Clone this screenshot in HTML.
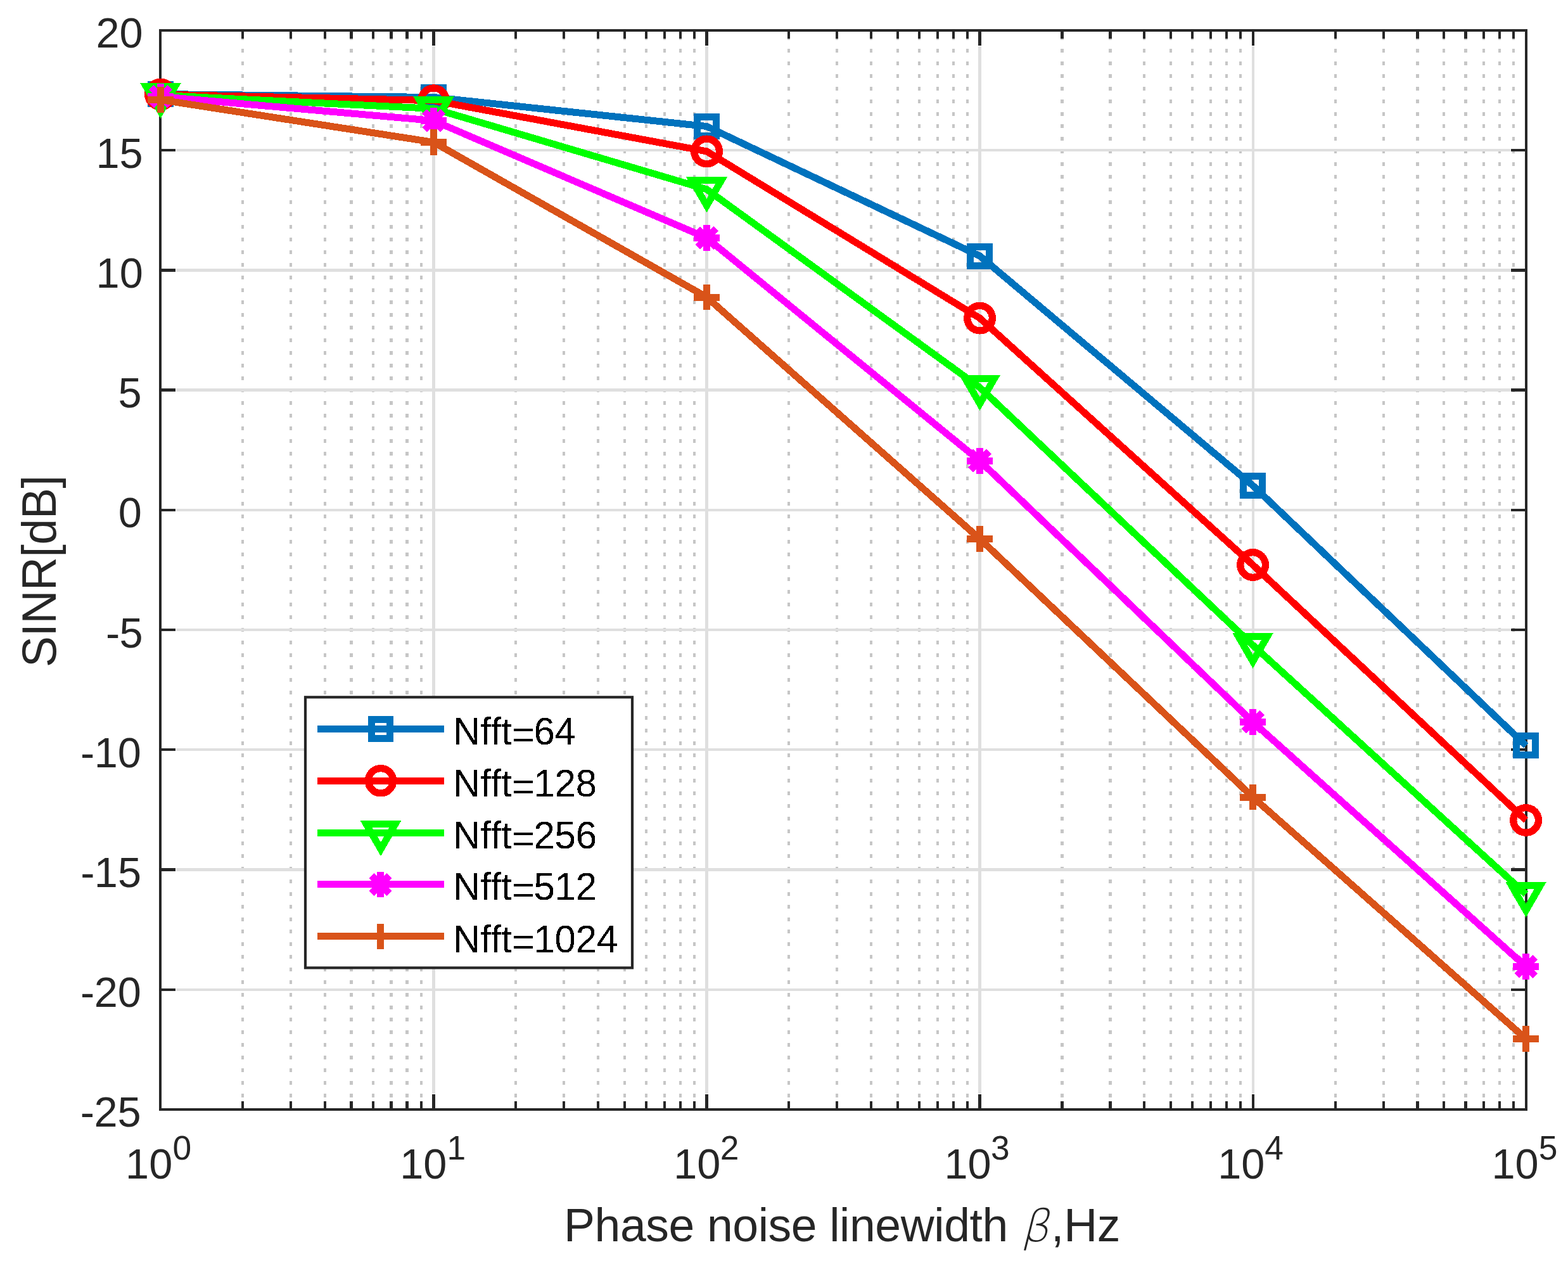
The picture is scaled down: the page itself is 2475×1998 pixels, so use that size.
<!DOCTYPE html>
<html lang="en"><head><meta charset="utf-8"><title>SINR vs phase noise linewidth</title>
<style>html,body{margin:0;padding:0;background:#fff;overflow:hidden}svg{display:block}text{font-family:"Liberation Sans",sans-serif;font-variant-ligatures:none;font-kerning:none;white-space:pre}.tk{font-size:66.67px;fill:#262626}.ex{font-size:53.33px;fill:#262626}.lb{font-size:73.33px;fill:#262626}.lg{font-size:60px;fill:#000}.bt{font-family:"DejaVu Sans ExtraLight","DejaVu Sans Light","DejaVu Sans",sans-serif;font-weight:200;font-style:italic;font-size:70px;letter-spacing:0}</style></head><body>
<svg width="2475" height="1998" viewBox="0 0 2475 1998">
<defs><filter id="hard" x="-5%" y="-20%" width="110%" height="140%" color-interpolation-filters="sRGB"><feComponentTransfer><feFuncA type="discrete" tableValues="0 1"/></feComponentTransfer></filter></defs>
<rect width="2475" height="1998" fill="#fff"/>
<g fill="#c6c6c6" shape-rendering="crispEdges">
<path d="M381 1746h4v6h-4zM381 1726h4v6h-4zM381 1706h4v6h-4zM381 1686h4v6h-4zM381 1666h4v6h-4zM381 1646h4v6h-4zM381 1626h4v6h-4zM381 1606h4v6h-4zM381 1587h4v6h-4zM381 1567h4v6h-4zM381 1547h4v6h-4zM381 1527h4v6h-4zM381 1507h4v6h-4zM381 1487h4v6h-4zM381 1467h4v6h-4zM381 1448h4v6h-4zM381 1428h4v6h-4zM381 1408h4v6h-4zM381 1388h4v6h-4zM381 1368h4v6h-4zM381 1348h4v6h-4zM381 1328h4v6h-4zM381 1309h4v6h-4zM381 1289h4v6h-4zM381 1269h4v6h-4zM381 1249h4v6h-4zM381 1229h4v6h-4zM381 1209h4v6h-4zM381 1189h4v6h-4zM381 1170h4v6h-4zM381 1150h4v6h-4zM381 1130h4v6h-4zM381 1110h4v6h-4zM381 1090h4v6h-4zM381 1070h4v6h-4zM381 1050h4v6h-4zM381 1031h4v6h-4zM381 1011h4v6h-4zM381 991h4v6h-4zM381 971h4v6h-4zM381 951h4v6h-4zM381 931h4v6h-4zM381 911h4v6h-4zM381 892h4v6h-4zM381 872h4v6h-4zM381 852h4v6h-4zM381 832h4v6h-4zM381 812h4v6h-4zM381 792h4v6h-4zM381 772h4v6h-4zM381 752h4v6h-4zM381 733h4v6h-4zM381 713h4v6h-4zM381 693h4v6h-4zM381 673h4v6h-4zM381 653h4v6h-4zM381 633h4v6h-4zM381 613h4v6h-4zM381 594h4v6h-4zM381 574h4v6h-4zM381 554h4v6h-4zM381 534h4v6h-4zM381 514h4v6h-4zM381 494h4v6h-4zM381 474h4v6h-4zM381 455h4v6h-4zM381 435h4v6h-4zM381 415h4v6h-4zM381 395h4v6h-4zM381 375h4v6h-4zM381 355h4v6h-4zM381 335h4v6h-4zM381 316h4v6h-4zM381 296h4v6h-4zM381 276h4v6h-4zM381 256h4v6h-4zM381 236h4v6h-4zM381 216h4v6h-4zM381 196h4v6h-4zM381 177h4v6h-4zM381 157h4v6h-4zM381 137h4v6h-4zM381 117h4v6h-4zM381 97h4v6h-4zM381 77h4v6h-4zM381 57h4v6h-4z"/>
<path d="M457 1746h4v6h-4zM457 1726h4v6h-4zM457 1706h4v6h-4zM457 1686h4v6h-4zM457 1666h4v6h-4zM457 1646h4v6h-4zM457 1626h4v6h-4zM457 1606h4v6h-4zM457 1587h4v6h-4zM457 1567h4v6h-4zM457 1547h4v6h-4zM457 1527h4v6h-4zM457 1507h4v6h-4zM457 1487h4v6h-4zM457 1467h4v6h-4zM457 1448h4v6h-4zM457 1428h4v6h-4zM457 1408h4v6h-4zM457 1388h4v6h-4zM457 1368h4v6h-4zM457 1348h4v6h-4zM457 1328h4v6h-4zM457 1309h4v6h-4zM457 1289h4v6h-4zM457 1269h4v6h-4zM457 1249h4v6h-4zM457 1229h4v6h-4zM457 1209h4v6h-4zM457 1189h4v6h-4zM457 1170h4v6h-4zM457 1150h4v6h-4zM457 1130h4v6h-4zM457 1110h4v6h-4zM457 1090h4v6h-4zM457 1070h4v6h-4zM457 1050h4v6h-4zM457 1031h4v6h-4zM457 1011h4v6h-4zM457 991h4v6h-4zM457 971h4v6h-4zM457 951h4v6h-4zM457 931h4v6h-4zM457 911h4v6h-4zM457 892h4v6h-4zM457 872h4v6h-4zM457 852h4v6h-4zM457 832h4v6h-4zM457 812h4v6h-4zM457 792h4v6h-4zM457 772h4v6h-4zM457 752h4v6h-4zM457 733h4v6h-4zM457 713h4v6h-4zM457 693h4v6h-4zM457 673h4v6h-4zM457 653h4v6h-4zM457 633h4v6h-4zM457 613h4v6h-4zM457 594h4v6h-4zM457 574h4v6h-4zM457 554h4v6h-4zM457 534h4v6h-4zM457 514h4v6h-4zM457 494h4v6h-4zM457 474h4v6h-4zM457 455h4v6h-4zM457 435h4v6h-4zM457 415h4v6h-4zM457 395h4v6h-4zM457 375h4v6h-4zM457 355h4v6h-4zM457 335h4v6h-4zM457 316h4v6h-4zM457 296h4v6h-4zM457 276h4v6h-4zM457 256h4v6h-4zM457 236h4v6h-4zM457 216h4v6h-4zM457 196h4v6h-4zM457 177h4v6h-4zM457 157h4v6h-4zM457 137h4v6h-4zM457 117h4v6h-4zM457 97h4v6h-4zM457 77h4v6h-4zM457 57h4v6h-4z"/>
<path d="M511 1746h4v6h-4zM511 1726h4v6h-4zM511 1706h4v6h-4zM511 1686h4v6h-4zM511 1666h4v6h-4zM511 1646h4v6h-4zM511 1626h4v6h-4zM511 1606h4v6h-4zM511 1587h4v6h-4zM511 1567h4v6h-4zM511 1547h4v6h-4zM511 1527h4v6h-4zM511 1507h4v6h-4zM511 1487h4v6h-4zM511 1467h4v6h-4zM511 1448h4v6h-4zM511 1428h4v6h-4zM511 1408h4v6h-4zM511 1388h4v6h-4zM511 1368h4v6h-4zM511 1348h4v6h-4zM511 1328h4v6h-4zM511 1309h4v6h-4zM511 1289h4v6h-4zM511 1269h4v6h-4zM511 1249h4v6h-4zM511 1229h4v6h-4zM511 1209h4v6h-4zM511 1189h4v6h-4zM511 1170h4v6h-4zM511 1150h4v6h-4zM511 1130h4v6h-4zM511 1110h4v6h-4zM511 1090h4v6h-4zM511 1070h4v6h-4zM511 1050h4v6h-4zM511 1031h4v6h-4zM511 1011h4v6h-4zM511 991h4v6h-4zM511 971h4v6h-4zM511 951h4v6h-4zM511 931h4v6h-4zM511 911h4v6h-4zM511 892h4v6h-4zM511 872h4v6h-4zM511 852h4v6h-4zM511 832h4v6h-4zM511 812h4v6h-4zM511 792h4v6h-4zM511 772h4v6h-4zM511 752h4v6h-4zM511 733h4v6h-4zM511 713h4v6h-4zM511 693h4v6h-4zM511 673h4v6h-4zM511 653h4v6h-4zM511 633h4v6h-4zM511 613h4v6h-4zM511 594h4v6h-4zM511 574h4v6h-4zM511 554h4v6h-4zM511 534h4v6h-4zM511 514h4v6h-4zM511 494h4v6h-4zM511 474h4v6h-4zM511 455h4v6h-4zM511 435h4v6h-4zM511 415h4v6h-4zM511 395h4v6h-4zM511 375h4v6h-4zM511 355h4v6h-4zM511 335h4v6h-4zM511 316h4v6h-4zM511 296h4v6h-4zM511 276h4v6h-4zM511 256h4v6h-4zM511 236h4v6h-4zM511 216h4v6h-4zM511 196h4v6h-4zM511 177h4v6h-4zM511 157h4v6h-4zM511 137h4v6h-4zM511 117h4v6h-4zM511 97h4v6h-4zM511 77h4v6h-4zM511 57h4v6h-4z"/>
<path d="M552 1746h5v6h-5zM552 1726h5v6h-5zM552 1706h5v6h-5zM552 1686h5v6h-5zM552 1666h5v6h-5zM552 1646h5v6h-5zM552 1626h5v6h-5zM552 1606h5v6h-5zM552 1587h5v6h-5zM552 1567h5v6h-5zM552 1547h5v6h-5zM552 1527h5v6h-5zM552 1507h5v6h-5zM552 1487h5v6h-5zM552 1467h5v6h-5zM552 1448h5v6h-5zM552 1428h5v6h-5zM552 1408h5v6h-5zM552 1388h5v6h-5zM552 1368h5v6h-5zM552 1348h5v6h-5zM552 1328h5v6h-5zM552 1309h5v6h-5zM552 1289h5v6h-5zM552 1269h5v6h-5zM552 1249h5v6h-5zM552 1229h5v6h-5zM552 1209h5v6h-5zM552 1189h5v6h-5zM552 1170h5v6h-5zM552 1150h5v6h-5zM552 1130h5v6h-5zM552 1110h5v6h-5zM552 1090h5v6h-5zM552 1070h5v6h-5zM552 1050h5v6h-5zM552 1031h5v6h-5zM552 1011h5v6h-5zM552 991h5v6h-5zM552 971h5v6h-5zM552 951h5v6h-5zM552 931h5v6h-5zM552 911h5v6h-5zM552 892h5v6h-5zM552 872h5v6h-5zM552 852h5v6h-5zM552 832h5v6h-5zM552 812h5v6h-5zM552 792h5v6h-5zM552 772h5v6h-5zM552 752h5v6h-5zM552 733h5v6h-5zM552 713h5v6h-5zM552 693h5v6h-5zM552 673h5v6h-5zM552 653h5v6h-5zM552 633h5v6h-5zM552 613h5v6h-5zM552 594h5v6h-5zM552 574h5v6h-5zM552 554h5v6h-5zM552 534h5v6h-5zM552 514h5v6h-5zM552 494h5v6h-5zM552 474h5v6h-5zM552 455h5v6h-5zM552 435h5v6h-5zM552 415h5v6h-5zM552 395h5v6h-5zM552 375h5v6h-5zM552 355h5v6h-5zM552 335h5v6h-5zM552 316h5v6h-5zM552 296h5v6h-5zM552 276h5v6h-5zM552 256h5v6h-5zM552 236h5v6h-5zM552 216h5v6h-5zM552 196h5v6h-5zM552 177h5v6h-5zM552 157h5v6h-5zM552 137h5v6h-5zM552 117h5v6h-5zM552 97h5v6h-5zM552 77h5v6h-5zM552 57h5v6h-5z"/>
<path d="M587 1746h4v6h-4zM587 1726h4v6h-4zM587 1706h4v6h-4zM587 1686h4v6h-4zM587 1666h4v6h-4zM587 1646h4v6h-4zM587 1626h4v6h-4zM587 1606h4v6h-4zM587 1587h4v6h-4zM587 1567h4v6h-4zM587 1547h4v6h-4zM587 1527h4v6h-4zM587 1507h4v6h-4zM587 1487h4v6h-4zM587 1467h4v6h-4zM587 1448h4v6h-4zM587 1428h4v6h-4zM587 1408h4v6h-4zM587 1388h4v6h-4zM587 1368h4v6h-4zM587 1348h4v6h-4zM587 1328h4v6h-4zM587 1309h4v6h-4zM587 1289h4v6h-4zM587 1269h4v6h-4zM587 1249h4v6h-4zM587 1229h4v6h-4zM587 1209h4v6h-4zM587 1189h4v6h-4zM587 1170h4v6h-4zM587 1150h4v6h-4zM587 1130h4v6h-4zM587 1110h4v6h-4zM587 1090h4v6h-4zM587 1070h4v6h-4zM587 1050h4v6h-4zM587 1031h4v6h-4zM587 1011h4v6h-4zM587 991h4v6h-4zM587 971h4v6h-4zM587 951h4v6h-4zM587 931h4v6h-4zM587 911h4v6h-4zM587 892h4v6h-4zM587 872h4v6h-4zM587 852h4v6h-4zM587 832h4v6h-4zM587 812h4v6h-4zM587 792h4v6h-4zM587 772h4v6h-4zM587 752h4v6h-4zM587 733h4v6h-4zM587 713h4v6h-4zM587 693h4v6h-4zM587 673h4v6h-4zM587 653h4v6h-4zM587 633h4v6h-4zM587 613h4v6h-4zM587 594h4v6h-4zM587 574h4v6h-4zM587 554h4v6h-4zM587 534h4v6h-4zM587 514h4v6h-4zM587 494h4v6h-4zM587 474h4v6h-4zM587 455h4v6h-4zM587 435h4v6h-4zM587 415h4v6h-4zM587 395h4v6h-4zM587 375h4v6h-4zM587 355h4v6h-4zM587 335h4v6h-4zM587 316h4v6h-4zM587 296h4v6h-4zM587 276h4v6h-4zM587 256h4v6h-4zM587 236h4v6h-4zM587 216h4v6h-4zM587 196h4v6h-4zM587 177h4v6h-4zM587 157h4v6h-4zM587 137h4v6h-4zM587 117h4v6h-4zM587 97h4v6h-4zM587 77h4v6h-4zM587 57h4v6h-4z"/>
<path d="M615 1746h5v6h-5zM615 1726h5v6h-5zM615 1706h5v6h-5zM615 1686h5v6h-5zM615 1666h5v6h-5zM615 1646h5v6h-5zM615 1626h5v6h-5zM615 1606h5v6h-5zM615 1587h5v6h-5zM615 1567h5v6h-5zM615 1547h5v6h-5zM615 1527h5v6h-5zM615 1507h5v6h-5zM615 1487h5v6h-5zM615 1467h5v6h-5zM615 1448h5v6h-5zM615 1428h5v6h-5zM615 1408h5v6h-5zM615 1388h5v6h-5zM615 1368h5v6h-5zM615 1348h5v6h-5zM615 1328h5v6h-5zM615 1309h5v6h-5zM615 1289h5v6h-5zM615 1269h5v6h-5zM615 1249h5v6h-5zM615 1229h5v6h-5zM615 1209h5v6h-5zM615 1189h5v6h-5zM615 1170h5v6h-5zM615 1150h5v6h-5zM615 1130h5v6h-5zM615 1110h5v6h-5zM615 1090h5v6h-5zM615 1070h5v6h-5zM615 1050h5v6h-5zM615 1031h5v6h-5zM615 1011h5v6h-5zM615 991h5v6h-5zM615 971h5v6h-5zM615 951h5v6h-5zM615 931h5v6h-5zM615 911h5v6h-5zM615 892h5v6h-5zM615 872h5v6h-5zM615 852h5v6h-5zM615 832h5v6h-5zM615 812h5v6h-5zM615 792h5v6h-5zM615 772h5v6h-5zM615 752h5v6h-5zM615 733h5v6h-5zM615 713h5v6h-5zM615 693h5v6h-5zM615 673h5v6h-5zM615 653h5v6h-5zM615 633h5v6h-5zM615 613h5v6h-5zM615 594h5v6h-5zM615 574h5v6h-5zM615 554h5v6h-5zM615 534h5v6h-5zM615 514h5v6h-5zM615 494h5v6h-5zM615 474h5v6h-5zM615 455h5v6h-5zM615 435h5v6h-5zM615 415h5v6h-5zM615 395h5v6h-5zM615 375h5v6h-5zM615 355h5v6h-5zM615 335h5v6h-5zM615 316h5v6h-5zM615 296h5v6h-5zM615 276h5v6h-5zM615 256h5v6h-5zM615 236h5v6h-5zM615 216h5v6h-5zM615 196h5v6h-5zM615 177h5v6h-5zM615 157h5v6h-5zM615 137h5v6h-5zM615 117h5v6h-5zM615 97h5v6h-5zM615 77h5v6h-5zM615 57h5v6h-5z"/>
<path d="M640 1746h5v6h-5zM640 1726h5v6h-5zM640 1706h5v6h-5zM640 1686h5v6h-5zM640 1666h5v6h-5zM640 1646h5v6h-5zM640 1626h5v6h-5zM640 1606h5v6h-5zM640 1587h5v6h-5zM640 1567h5v6h-5zM640 1547h5v6h-5zM640 1527h5v6h-5zM640 1507h5v6h-5zM640 1487h5v6h-5zM640 1467h5v6h-5zM640 1448h5v6h-5zM640 1428h5v6h-5zM640 1408h5v6h-5zM640 1388h5v6h-5zM640 1368h5v6h-5zM640 1348h5v6h-5zM640 1328h5v6h-5zM640 1309h5v6h-5zM640 1289h5v6h-5zM640 1269h5v6h-5zM640 1249h5v6h-5zM640 1229h5v6h-5zM640 1209h5v6h-5zM640 1189h5v6h-5zM640 1170h5v6h-5zM640 1150h5v6h-5zM640 1130h5v6h-5zM640 1110h5v6h-5zM640 1090h5v6h-5zM640 1070h5v6h-5zM640 1050h5v6h-5zM640 1031h5v6h-5zM640 1011h5v6h-5zM640 991h5v6h-5zM640 971h5v6h-5zM640 951h5v6h-5zM640 931h5v6h-5zM640 911h5v6h-5zM640 892h5v6h-5zM640 872h5v6h-5zM640 852h5v6h-5zM640 832h5v6h-5zM640 812h5v6h-5zM640 792h5v6h-5zM640 772h5v6h-5zM640 752h5v6h-5zM640 733h5v6h-5zM640 713h5v6h-5zM640 693h5v6h-5zM640 673h5v6h-5zM640 653h5v6h-5zM640 633h5v6h-5zM640 613h5v6h-5zM640 594h5v6h-5zM640 574h5v6h-5zM640 554h5v6h-5zM640 534h5v6h-5zM640 514h5v6h-5zM640 494h5v6h-5zM640 474h5v6h-5zM640 455h5v6h-5zM640 435h5v6h-5zM640 415h5v6h-5zM640 395h5v6h-5zM640 375h5v6h-5zM640 355h5v6h-5zM640 335h5v6h-5zM640 316h5v6h-5zM640 296h5v6h-5zM640 276h5v6h-5zM640 256h5v6h-5zM640 236h5v6h-5zM640 216h5v6h-5zM640 196h5v6h-5zM640 177h5v6h-5zM640 157h5v6h-5zM640 137h5v6h-5zM640 117h5v6h-5zM640 97h5v6h-5zM640 77h5v6h-5zM640 57h5v6h-5z"/>
<path d="M663 1746h4v6h-4zM663 1726h4v6h-4zM663 1706h4v6h-4zM663 1686h4v6h-4zM663 1666h4v6h-4zM663 1646h4v6h-4zM663 1626h4v6h-4zM663 1606h4v6h-4zM663 1587h4v6h-4zM663 1567h4v6h-4zM663 1547h4v6h-4zM663 1527h4v6h-4zM663 1507h4v6h-4zM663 1487h4v6h-4zM663 1467h4v6h-4zM663 1448h4v6h-4zM663 1428h4v6h-4zM663 1408h4v6h-4zM663 1388h4v6h-4zM663 1368h4v6h-4zM663 1348h4v6h-4zM663 1328h4v6h-4zM663 1309h4v6h-4zM663 1289h4v6h-4zM663 1269h4v6h-4zM663 1249h4v6h-4zM663 1229h4v6h-4zM663 1209h4v6h-4zM663 1189h4v6h-4zM663 1170h4v6h-4zM663 1150h4v6h-4zM663 1130h4v6h-4zM663 1110h4v6h-4zM663 1090h4v6h-4zM663 1070h4v6h-4zM663 1050h4v6h-4zM663 1031h4v6h-4zM663 1011h4v6h-4zM663 991h4v6h-4zM663 971h4v6h-4zM663 951h4v6h-4zM663 931h4v6h-4zM663 911h4v6h-4zM663 892h4v6h-4zM663 872h4v6h-4zM663 852h4v6h-4zM663 832h4v6h-4zM663 812h4v6h-4zM663 792h4v6h-4zM663 772h4v6h-4zM663 752h4v6h-4zM663 733h4v6h-4zM663 713h4v6h-4zM663 693h4v6h-4zM663 673h4v6h-4zM663 653h4v6h-4zM663 633h4v6h-4zM663 613h4v6h-4zM663 594h4v6h-4zM663 574h4v6h-4zM663 554h4v6h-4zM663 534h4v6h-4zM663 514h4v6h-4zM663 494h4v6h-4zM663 474h4v6h-4zM663 455h4v6h-4zM663 435h4v6h-4zM663 415h4v6h-4zM663 395h4v6h-4zM663 375h4v6h-4zM663 355h4v6h-4zM663 335h4v6h-4zM663 316h4v6h-4zM663 296h4v6h-4zM663 276h4v6h-4zM663 256h4v6h-4zM663 236h4v6h-4zM663 216h4v6h-4zM663 196h4v6h-4zM663 177h4v6h-4zM663 157h4v6h-4zM663 137h4v6h-4zM663 117h4v6h-4zM663 97h4v6h-4zM663 77h4v6h-4zM663 57h4v6h-4z"/>
<path d="M812 1746h4v6h-4zM812 1726h4v6h-4zM812 1706h4v6h-4zM812 1686h4v6h-4zM812 1666h4v6h-4zM812 1646h4v6h-4zM812 1626h4v6h-4zM812 1606h4v6h-4zM812 1587h4v6h-4zM812 1567h4v6h-4zM812 1547h4v6h-4zM812 1527h4v6h-4zM812 1507h4v6h-4zM812 1487h4v6h-4zM812 1467h4v6h-4zM812 1448h4v6h-4zM812 1428h4v6h-4zM812 1408h4v6h-4zM812 1388h4v6h-4zM812 1368h4v6h-4zM812 1348h4v6h-4zM812 1328h4v6h-4zM812 1309h4v6h-4zM812 1289h4v6h-4zM812 1269h4v6h-4zM812 1249h4v6h-4zM812 1229h4v6h-4zM812 1209h4v6h-4zM812 1189h4v6h-4zM812 1170h4v6h-4zM812 1150h4v6h-4zM812 1130h4v6h-4zM812 1110h4v6h-4zM812 1090h4v6h-4zM812 1070h4v6h-4zM812 1050h4v6h-4zM812 1031h4v6h-4zM812 1011h4v6h-4zM812 991h4v6h-4zM812 971h4v6h-4zM812 951h4v6h-4zM812 931h4v6h-4zM812 911h4v6h-4zM812 892h4v6h-4zM812 872h4v6h-4zM812 852h4v6h-4zM812 832h4v6h-4zM812 812h4v6h-4zM812 792h4v6h-4zM812 772h4v6h-4zM812 752h4v6h-4zM812 733h4v6h-4zM812 713h4v6h-4zM812 693h4v6h-4zM812 673h4v6h-4zM812 653h4v6h-4zM812 633h4v6h-4zM812 613h4v6h-4zM812 594h4v6h-4zM812 574h4v6h-4zM812 554h4v6h-4zM812 534h4v6h-4zM812 514h4v6h-4zM812 494h4v6h-4zM812 474h4v6h-4zM812 455h4v6h-4zM812 435h4v6h-4zM812 415h4v6h-4zM812 395h4v6h-4zM812 375h4v6h-4zM812 355h4v6h-4zM812 335h4v6h-4zM812 316h4v6h-4zM812 296h4v6h-4zM812 276h4v6h-4zM812 256h4v6h-4zM812 236h4v6h-4zM812 216h4v6h-4zM812 196h4v6h-4zM812 177h4v6h-4zM812 157h4v6h-4zM812 137h4v6h-4zM812 117h4v6h-4zM812 97h4v6h-4zM812 77h4v6h-4zM812 57h4v6h-4z"/>
<path d="M888 1746h4v6h-4zM888 1726h4v6h-4zM888 1706h4v6h-4zM888 1686h4v6h-4zM888 1666h4v6h-4zM888 1646h4v6h-4zM888 1626h4v6h-4zM888 1606h4v6h-4zM888 1587h4v6h-4zM888 1567h4v6h-4zM888 1547h4v6h-4zM888 1527h4v6h-4zM888 1507h4v6h-4zM888 1487h4v6h-4zM888 1467h4v6h-4zM888 1448h4v6h-4zM888 1428h4v6h-4zM888 1408h4v6h-4zM888 1388h4v6h-4zM888 1368h4v6h-4zM888 1348h4v6h-4zM888 1328h4v6h-4zM888 1309h4v6h-4zM888 1289h4v6h-4zM888 1269h4v6h-4zM888 1249h4v6h-4zM888 1229h4v6h-4zM888 1209h4v6h-4zM888 1189h4v6h-4zM888 1170h4v6h-4zM888 1150h4v6h-4zM888 1130h4v6h-4zM888 1110h4v6h-4zM888 1090h4v6h-4zM888 1070h4v6h-4zM888 1050h4v6h-4zM888 1031h4v6h-4zM888 1011h4v6h-4zM888 991h4v6h-4zM888 971h4v6h-4zM888 951h4v6h-4zM888 931h4v6h-4zM888 911h4v6h-4zM888 892h4v6h-4zM888 872h4v6h-4zM888 852h4v6h-4zM888 832h4v6h-4zM888 812h4v6h-4zM888 792h4v6h-4zM888 772h4v6h-4zM888 752h4v6h-4zM888 733h4v6h-4zM888 713h4v6h-4zM888 693h4v6h-4zM888 673h4v6h-4zM888 653h4v6h-4zM888 633h4v6h-4zM888 613h4v6h-4zM888 594h4v6h-4zM888 574h4v6h-4zM888 554h4v6h-4zM888 534h4v6h-4zM888 514h4v6h-4zM888 494h4v6h-4zM888 474h4v6h-4zM888 455h4v6h-4zM888 435h4v6h-4zM888 415h4v6h-4zM888 395h4v6h-4zM888 375h4v6h-4zM888 355h4v6h-4zM888 335h4v6h-4zM888 316h4v6h-4zM888 296h4v6h-4zM888 276h4v6h-4zM888 256h4v6h-4zM888 236h4v6h-4zM888 216h4v6h-4zM888 196h4v6h-4zM888 177h4v6h-4zM888 157h4v6h-4zM888 137h4v6h-4zM888 117h4v6h-4zM888 97h4v6h-4zM888 77h4v6h-4zM888 57h4v6h-4z"/>
<path d="M942 1746h4v6h-4zM942 1726h4v6h-4zM942 1706h4v6h-4zM942 1686h4v6h-4zM942 1666h4v6h-4zM942 1646h4v6h-4zM942 1626h4v6h-4zM942 1606h4v6h-4zM942 1587h4v6h-4zM942 1567h4v6h-4zM942 1547h4v6h-4zM942 1527h4v6h-4zM942 1507h4v6h-4zM942 1487h4v6h-4zM942 1467h4v6h-4zM942 1448h4v6h-4zM942 1428h4v6h-4zM942 1408h4v6h-4zM942 1388h4v6h-4zM942 1368h4v6h-4zM942 1348h4v6h-4zM942 1328h4v6h-4zM942 1309h4v6h-4zM942 1289h4v6h-4zM942 1269h4v6h-4zM942 1249h4v6h-4zM942 1229h4v6h-4zM942 1209h4v6h-4zM942 1189h4v6h-4zM942 1170h4v6h-4zM942 1150h4v6h-4zM942 1130h4v6h-4zM942 1110h4v6h-4zM942 1090h4v6h-4zM942 1070h4v6h-4zM942 1050h4v6h-4zM942 1031h4v6h-4zM942 1011h4v6h-4zM942 991h4v6h-4zM942 971h4v6h-4zM942 951h4v6h-4zM942 931h4v6h-4zM942 911h4v6h-4zM942 892h4v6h-4zM942 872h4v6h-4zM942 852h4v6h-4zM942 832h4v6h-4zM942 812h4v6h-4zM942 792h4v6h-4zM942 772h4v6h-4zM942 752h4v6h-4zM942 733h4v6h-4zM942 713h4v6h-4zM942 693h4v6h-4zM942 673h4v6h-4zM942 653h4v6h-4zM942 633h4v6h-4zM942 613h4v6h-4zM942 594h4v6h-4zM942 574h4v6h-4zM942 554h4v6h-4zM942 534h4v6h-4zM942 514h4v6h-4zM942 494h4v6h-4zM942 474h4v6h-4zM942 455h4v6h-4zM942 435h4v6h-4zM942 415h4v6h-4zM942 395h4v6h-4zM942 375h4v6h-4zM942 355h4v6h-4zM942 335h4v6h-4zM942 316h4v6h-4zM942 296h4v6h-4zM942 276h4v6h-4zM942 256h4v6h-4zM942 236h4v6h-4zM942 216h4v6h-4zM942 196h4v6h-4zM942 177h4v6h-4zM942 157h4v6h-4zM942 137h4v6h-4zM942 117h4v6h-4zM942 97h4v6h-4zM942 77h4v6h-4zM942 57h4v6h-4z"/>
<path d="M984 1746h4v6h-4zM984 1726h4v6h-4zM984 1706h4v6h-4zM984 1686h4v6h-4zM984 1666h4v6h-4zM984 1646h4v6h-4zM984 1626h4v6h-4zM984 1606h4v6h-4zM984 1587h4v6h-4zM984 1567h4v6h-4zM984 1547h4v6h-4zM984 1527h4v6h-4zM984 1507h4v6h-4zM984 1487h4v6h-4zM984 1467h4v6h-4zM984 1448h4v6h-4zM984 1428h4v6h-4zM984 1408h4v6h-4zM984 1388h4v6h-4zM984 1368h4v6h-4zM984 1348h4v6h-4zM984 1328h4v6h-4zM984 1309h4v6h-4zM984 1289h4v6h-4zM984 1269h4v6h-4zM984 1249h4v6h-4zM984 1229h4v6h-4zM984 1209h4v6h-4zM984 1189h4v6h-4zM984 1170h4v6h-4zM984 1150h4v6h-4zM984 1130h4v6h-4zM984 1110h4v6h-4zM984 1090h4v6h-4zM984 1070h4v6h-4zM984 1050h4v6h-4zM984 1031h4v6h-4zM984 1011h4v6h-4zM984 991h4v6h-4zM984 971h4v6h-4zM984 951h4v6h-4zM984 931h4v6h-4zM984 911h4v6h-4zM984 892h4v6h-4zM984 872h4v6h-4zM984 852h4v6h-4zM984 832h4v6h-4zM984 812h4v6h-4zM984 792h4v6h-4zM984 772h4v6h-4zM984 752h4v6h-4zM984 733h4v6h-4zM984 713h4v6h-4zM984 693h4v6h-4zM984 673h4v6h-4zM984 653h4v6h-4zM984 633h4v6h-4zM984 613h4v6h-4zM984 594h4v6h-4zM984 574h4v6h-4zM984 554h4v6h-4zM984 534h4v6h-4zM984 514h4v6h-4zM984 494h4v6h-4zM984 474h4v6h-4zM984 455h4v6h-4zM984 435h4v6h-4zM984 415h4v6h-4zM984 395h4v6h-4zM984 375h4v6h-4zM984 355h4v6h-4zM984 335h4v6h-4zM984 316h4v6h-4zM984 296h4v6h-4zM984 276h4v6h-4zM984 256h4v6h-4zM984 236h4v6h-4zM984 216h4v6h-4zM984 196h4v6h-4zM984 177h4v6h-4zM984 157h4v6h-4zM984 137h4v6h-4zM984 117h4v6h-4zM984 97h4v6h-4zM984 77h4v6h-4zM984 57h4v6h-4z"/>
<path d="M1018 1746h4v6h-4zM1018 1726h4v6h-4zM1018 1706h4v6h-4zM1018 1686h4v6h-4zM1018 1666h4v6h-4zM1018 1646h4v6h-4zM1018 1626h4v6h-4zM1018 1606h4v6h-4zM1018 1587h4v6h-4zM1018 1567h4v6h-4zM1018 1547h4v6h-4zM1018 1527h4v6h-4zM1018 1507h4v6h-4zM1018 1487h4v6h-4zM1018 1467h4v6h-4zM1018 1448h4v6h-4zM1018 1428h4v6h-4zM1018 1408h4v6h-4zM1018 1388h4v6h-4zM1018 1368h4v6h-4zM1018 1348h4v6h-4zM1018 1328h4v6h-4zM1018 1309h4v6h-4zM1018 1289h4v6h-4zM1018 1269h4v6h-4zM1018 1249h4v6h-4zM1018 1229h4v6h-4zM1018 1209h4v6h-4zM1018 1189h4v6h-4zM1018 1170h4v6h-4zM1018 1150h4v6h-4zM1018 1130h4v6h-4zM1018 1110h4v6h-4zM1018 1090h4v6h-4zM1018 1070h4v6h-4zM1018 1050h4v6h-4zM1018 1031h4v6h-4zM1018 1011h4v6h-4zM1018 991h4v6h-4zM1018 971h4v6h-4zM1018 951h4v6h-4zM1018 931h4v6h-4zM1018 911h4v6h-4zM1018 892h4v6h-4zM1018 872h4v6h-4zM1018 852h4v6h-4zM1018 832h4v6h-4zM1018 812h4v6h-4zM1018 792h4v6h-4zM1018 772h4v6h-4zM1018 752h4v6h-4zM1018 733h4v6h-4zM1018 713h4v6h-4zM1018 693h4v6h-4zM1018 673h4v6h-4zM1018 653h4v6h-4zM1018 633h4v6h-4zM1018 613h4v6h-4zM1018 594h4v6h-4zM1018 574h4v6h-4zM1018 554h4v6h-4zM1018 534h4v6h-4zM1018 514h4v6h-4zM1018 494h4v6h-4zM1018 474h4v6h-4zM1018 455h4v6h-4zM1018 435h4v6h-4zM1018 415h4v6h-4zM1018 395h4v6h-4zM1018 375h4v6h-4zM1018 355h4v6h-4zM1018 335h4v6h-4zM1018 316h4v6h-4zM1018 296h4v6h-4zM1018 276h4v6h-4zM1018 256h4v6h-4zM1018 236h4v6h-4zM1018 216h4v6h-4zM1018 196h4v6h-4zM1018 177h4v6h-4zM1018 157h4v6h-4zM1018 137h4v6h-4zM1018 117h4v6h-4zM1018 97h4v6h-4zM1018 77h4v6h-4zM1018 57h4v6h-4z"/>
<path d="M1047 1746h4v6h-4zM1047 1726h4v6h-4zM1047 1706h4v6h-4zM1047 1686h4v6h-4zM1047 1666h4v6h-4zM1047 1646h4v6h-4zM1047 1626h4v6h-4zM1047 1606h4v6h-4zM1047 1587h4v6h-4zM1047 1567h4v6h-4zM1047 1547h4v6h-4zM1047 1527h4v6h-4zM1047 1507h4v6h-4zM1047 1487h4v6h-4zM1047 1467h4v6h-4zM1047 1448h4v6h-4zM1047 1428h4v6h-4zM1047 1408h4v6h-4zM1047 1388h4v6h-4zM1047 1368h4v6h-4zM1047 1348h4v6h-4zM1047 1328h4v6h-4zM1047 1309h4v6h-4zM1047 1289h4v6h-4zM1047 1269h4v6h-4zM1047 1249h4v6h-4zM1047 1229h4v6h-4zM1047 1209h4v6h-4zM1047 1189h4v6h-4zM1047 1170h4v6h-4zM1047 1150h4v6h-4zM1047 1130h4v6h-4zM1047 1110h4v6h-4zM1047 1090h4v6h-4zM1047 1070h4v6h-4zM1047 1050h4v6h-4zM1047 1031h4v6h-4zM1047 1011h4v6h-4zM1047 991h4v6h-4zM1047 971h4v6h-4zM1047 951h4v6h-4zM1047 931h4v6h-4zM1047 911h4v6h-4zM1047 892h4v6h-4zM1047 872h4v6h-4zM1047 852h4v6h-4zM1047 832h4v6h-4zM1047 812h4v6h-4zM1047 792h4v6h-4zM1047 772h4v6h-4zM1047 752h4v6h-4zM1047 733h4v6h-4zM1047 713h4v6h-4zM1047 693h4v6h-4zM1047 673h4v6h-4zM1047 653h4v6h-4zM1047 633h4v6h-4zM1047 613h4v6h-4zM1047 594h4v6h-4zM1047 574h4v6h-4zM1047 554h4v6h-4zM1047 534h4v6h-4zM1047 514h4v6h-4zM1047 494h4v6h-4zM1047 474h4v6h-4zM1047 455h4v6h-4zM1047 435h4v6h-4zM1047 415h4v6h-4zM1047 395h4v6h-4zM1047 375h4v6h-4zM1047 355h4v6h-4zM1047 335h4v6h-4zM1047 316h4v6h-4zM1047 296h4v6h-4zM1047 276h4v6h-4zM1047 256h4v6h-4zM1047 236h4v6h-4zM1047 216h4v6h-4zM1047 196h4v6h-4zM1047 177h4v6h-4zM1047 157h4v6h-4zM1047 137h4v6h-4zM1047 117h4v6h-4zM1047 97h4v6h-4zM1047 77h4v6h-4zM1047 57h4v6h-4z"/>
<path d="M1072 1746h4v6h-4zM1072 1726h4v6h-4zM1072 1706h4v6h-4zM1072 1686h4v6h-4zM1072 1666h4v6h-4zM1072 1646h4v6h-4zM1072 1626h4v6h-4zM1072 1606h4v6h-4zM1072 1587h4v6h-4zM1072 1567h4v6h-4zM1072 1547h4v6h-4zM1072 1527h4v6h-4zM1072 1507h4v6h-4zM1072 1487h4v6h-4zM1072 1467h4v6h-4zM1072 1448h4v6h-4zM1072 1428h4v6h-4zM1072 1408h4v6h-4zM1072 1388h4v6h-4zM1072 1368h4v6h-4zM1072 1348h4v6h-4zM1072 1328h4v6h-4zM1072 1309h4v6h-4zM1072 1289h4v6h-4zM1072 1269h4v6h-4zM1072 1249h4v6h-4zM1072 1229h4v6h-4zM1072 1209h4v6h-4zM1072 1189h4v6h-4zM1072 1170h4v6h-4zM1072 1150h4v6h-4zM1072 1130h4v6h-4zM1072 1110h4v6h-4zM1072 1090h4v6h-4zM1072 1070h4v6h-4zM1072 1050h4v6h-4zM1072 1031h4v6h-4zM1072 1011h4v6h-4zM1072 991h4v6h-4zM1072 971h4v6h-4zM1072 951h4v6h-4zM1072 931h4v6h-4zM1072 911h4v6h-4zM1072 892h4v6h-4zM1072 872h4v6h-4zM1072 852h4v6h-4zM1072 832h4v6h-4zM1072 812h4v6h-4zM1072 792h4v6h-4zM1072 772h4v6h-4zM1072 752h4v6h-4zM1072 733h4v6h-4zM1072 713h4v6h-4zM1072 693h4v6h-4zM1072 673h4v6h-4zM1072 653h4v6h-4zM1072 633h4v6h-4zM1072 613h4v6h-4zM1072 594h4v6h-4zM1072 574h4v6h-4zM1072 554h4v6h-4zM1072 534h4v6h-4zM1072 514h4v6h-4zM1072 494h4v6h-4zM1072 474h4v6h-4zM1072 455h4v6h-4zM1072 435h4v6h-4zM1072 415h4v6h-4zM1072 395h4v6h-4zM1072 375h4v6h-4zM1072 355h4v6h-4zM1072 335h4v6h-4zM1072 316h4v6h-4zM1072 296h4v6h-4zM1072 276h4v6h-4zM1072 256h4v6h-4zM1072 236h4v6h-4zM1072 216h4v6h-4zM1072 196h4v6h-4zM1072 177h4v6h-4zM1072 157h4v6h-4zM1072 137h4v6h-4zM1072 117h4v6h-4zM1072 97h4v6h-4zM1072 77h4v6h-4zM1072 57h4v6h-4z"/>
<path d="M1094 1746h4v6h-4zM1094 1726h4v6h-4zM1094 1706h4v6h-4zM1094 1686h4v6h-4zM1094 1666h4v6h-4zM1094 1646h4v6h-4zM1094 1626h4v6h-4zM1094 1606h4v6h-4zM1094 1587h4v6h-4zM1094 1567h4v6h-4zM1094 1547h4v6h-4zM1094 1527h4v6h-4zM1094 1507h4v6h-4zM1094 1487h4v6h-4zM1094 1467h4v6h-4zM1094 1448h4v6h-4zM1094 1428h4v6h-4zM1094 1408h4v6h-4zM1094 1388h4v6h-4zM1094 1368h4v6h-4zM1094 1348h4v6h-4zM1094 1328h4v6h-4zM1094 1309h4v6h-4zM1094 1289h4v6h-4zM1094 1269h4v6h-4zM1094 1249h4v6h-4zM1094 1229h4v6h-4zM1094 1209h4v6h-4zM1094 1189h4v6h-4zM1094 1170h4v6h-4zM1094 1150h4v6h-4zM1094 1130h4v6h-4zM1094 1110h4v6h-4zM1094 1090h4v6h-4zM1094 1070h4v6h-4zM1094 1050h4v6h-4zM1094 1031h4v6h-4zM1094 1011h4v6h-4zM1094 991h4v6h-4zM1094 971h4v6h-4zM1094 951h4v6h-4zM1094 931h4v6h-4zM1094 911h4v6h-4zM1094 892h4v6h-4zM1094 872h4v6h-4zM1094 852h4v6h-4zM1094 832h4v6h-4zM1094 812h4v6h-4zM1094 792h4v6h-4zM1094 772h4v6h-4zM1094 752h4v6h-4zM1094 733h4v6h-4zM1094 713h4v6h-4zM1094 693h4v6h-4zM1094 673h4v6h-4zM1094 653h4v6h-4zM1094 633h4v6h-4zM1094 613h4v6h-4zM1094 594h4v6h-4zM1094 574h4v6h-4zM1094 554h4v6h-4zM1094 534h4v6h-4zM1094 514h4v6h-4zM1094 494h4v6h-4zM1094 474h4v6h-4zM1094 455h4v6h-4zM1094 435h4v6h-4zM1094 415h4v6h-4zM1094 395h4v6h-4zM1094 375h4v6h-4zM1094 355h4v6h-4zM1094 335h4v6h-4zM1094 316h4v6h-4zM1094 296h4v6h-4zM1094 276h4v6h-4zM1094 256h4v6h-4zM1094 236h4v6h-4zM1094 216h4v6h-4zM1094 196h4v6h-4zM1094 177h4v6h-4zM1094 157h4v6h-4zM1094 137h4v6h-4zM1094 117h4v6h-4zM1094 97h4v6h-4zM1094 77h4v6h-4zM1094 57h4v6h-4z"/>
<path d="M1243 1746h4v6h-4zM1243 1726h4v6h-4zM1243 1706h4v6h-4zM1243 1686h4v6h-4zM1243 1666h4v6h-4zM1243 1646h4v6h-4zM1243 1626h4v6h-4zM1243 1606h4v6h-4zM1243 1587h4v6h-4zM1243 1567h4v6h-4zM1243 1547h4v6h-4zM1243 1527h4v6h-4zM1243 1507h4v6h-4zM1243 1487h4v6h-4zM1243 1467h4v6h-4zM1243 1448h4v6h-4zM1243 1428h4v6h-4zM1243 1408h4v6h-4zM1243 1388h4v6h-4zM1243 1368h4v6h-4zM1243 1348h4v6h-4zM1243 1328h4v6h-4zM1243 1309h4v6h-4zM1243 1289h4v6h-4zM1243 1269h4v6h-4zM1243 1249h4v6h-4zM1243 1229h4v6h-4zM1243 1209h4v6h-4zM1243 1189h4v6h-4zM1243 1170h4v6h-4zM1243 1150h4v6h-4zM1243 1130h4v6h-4zM1243 1110h4v6h-4zM1243 1090h4v6h-4zM1243 1070h4v6h-4zM1243 1050h4v6h-4zM1243 1031h4v6h-4zM1243 1011h4v6h-4zM1243 991h4v6h-4zM1243 971h4v6h-4zM1243 951h4v6h-4zM1243 931h4v6h-4zM1243 911h4v6h-4zM1243 892h4v6h-4zM1243 872h4v6h-4zM1243 852h4v6h-4zM1243 832h4v6h-4zM1243 812h4v6h-4zM1243 792h4v6h-4zM1243 772h4v6h-4zM1243 752h4v6h-4zM1243 733h4v6h-4zM1243 713h4v6h-4zM1243 693h4v6h-4zM1243 673h4v6h-4zM1243 653h4v6h-4zM1243 633h4v6h-4zM1243 613h4v6h-4zM1243 594h4v6h-4zM1243 574h4v6h-4zM1243 554h4v6h-4zM1243 534h4v6h-4zM1243 514h4v6h-4zM1243 494h4v6h-4zM1243 474h4v6h-4zM1243 455h4v6h-4zM1243 435h4v6h-4zM1243 415h4v6h-4zM1243 395h4v6h-4zM1243 375h4v6h-4zM1243 355h4v6h-4zM1243 335h4v6h-4zM1243 316h4v6h-4zM1243 296h4v6h-4zM1243 276h4v6h-4zM1243 256h4v6h-4zM1243 236h4v6h-4zM1243 216h4v6h-4zM1243 196h4v6h-4zM1243 177h4v6h-4zM1243 157h4v6h-4zM1243 137h4v6h-4zM1243 117h4v6h-4zM1243 97h4v6h-4zM1243 77h4v6h-4zM1243 57h4v6h-4z"/>
<path d="M1319 1746h4v6h-4zM1319 1726h4v6h-4zM1319 1706h4v6h-4zM1319 1686h4v6h-4zM1319 1666h4v6h-4zM1319 1646h4v6h-4zM1319 1626h4v6h-4zM1319 1606h4v6h-4zM1319 1587h4v6h-4zM1319 1567h4v6h-4zM1319 1547h4v6h-4zM1319 1527h4v6h-4zM1319 1507h4v6h-4zM1319 1487h4v6h-4zM1319 1467h4v6h-4zM1319 1448h4v6h-4zM1319 1428h4v6h-4zM1319 1408h4v6h-4zM1319 1388h4v6h-4zM1319 1368h4v6h-4zM1319 1348h4v6h-4zM1319 1328h4v6h-4zM1319 1309h4v6h-4zM1319 1289h4v6h-4zM1319 1269h4v6h-4zM1319 1249h4v6h-4zM1319 1229h4v6h-4zM1319 1209h4v6h-4zM1319 1189h4v6h-4zM1319 1170h4v6h-4zM1319 1150h4v6h-4zM1319 1130h4v6h-4zM1319 1110h4v6h-4zM1319 1090h4v6h-4zM1319 1070h4v6h-4zM1319 1050h4v6h-4zM1319 1031h4v6h-4zM1319 1011h4v6h-4zM1319 991h4v6h-4zM1319 971h4v6h-4zM1319 951h4v6h-4zM1319 931h4v6h-4zM1319 911h4v6h-4zM1319 892h4v6h-4zM1319 872h4v6h-4zM1319 852h4v6h-4zM1319 832h4v6h-4zM1319 812h4v6h-4zM1319 792h4v6h-4zM1319 772h4v6h-4zM1319 752h4v6h-4zM1319 733h4v6h-4zM1319 713h4v6h-4zM1319 693h4v6h-4zM1319 673h4v6h-4zM1319 653h4v6h-4zM1319 633h4v6h-4zM1319 613h4v6h-4zM1319 594h4v6h-4zM1319 574h4v6h-4zM1319 554h4v6h-4zM1319 534h4v6h-4zM1319 514h4v6h-4zM1319 494h4v6h-4zM1319 474h4v6h-4zM1319 455h4v6h-4zM1319 435h4v6h-4zM1319 415h4v6h-4zM1319 395h4v6h-4zM1319 375h4v6h-4zM1319 355h4v6h-4zM1319 335h4v6h-4zM1319 316h4v6h-4zM1319 296h4v6h-4zM1319 276h4v6h-4zM1319 256h4v6h-4zM1319 236h4v6h-4zM1319 216h4v6h-4zM1319 196h4v6h-4zM1319 177h4v6h-4zM1319 157h4v6h-4zM1319 137h4v6h-4zM1319 117h4v6h-4zM1319 97h4v6h-4zM1319 77h4v6h-4zM1319 57h4v6h-4z"/>
<path d="M1373 1746h4v6h-4zM1373 1726h4v6h-4zM1373 1706h4v6h-4zM1373 1686h4v6h-4zM1373 1666h4v6h-4zM1373 1646h4v6h-4zM1373 1626h4v6h-4zM1373 1606h4v6h-4zM1373 1587h4v6h-4zM1373 1567h4v6h-4zM1373 1547h4v6h-4zM1373 1527h4v6h-4zM1373 1507h4v6h-4zM1373 1487h4v6h-4zM1373 1467h4v6h-4zM1373 1448h4v6h-4zM1373 1428h4v6h-4zM1373 1408h4v6h-4zM1373 1388h4v6h-4zM1373 1368h4v6h-4zM1373 1348h4v6h-4zM1373 1328h4v6h-4zM1373 1309h4v6h-4zM1373 1289h4v6h-4zM1373 1269h4v6h-4zM1373 1249h4v6h-4zM1373 1229h4v6h-4zM1373 1209h4v6h-4zM1373 1189h4v6h-4zM1373 1170h4v6h-4zM1373 1150h4v6h-4zM1373 1130h4v6h-4zM1373 1110h4v6h-4zM1373 1090h4v6h-4zM1373 1070h4v6h-4zM1373 1050h4v6h-4zM1373 1031h4v6h-4zM1373 1011h4v6h-4zM1373 991h4v6h-4zM1373 971h4v6h-4zM1373 951h4v6h-4zM1373 931h4v6h-4zM1373 911h4v6h-4zM1373 892h4v6h-4zM1373 872h4v6h-4zM1373 852h4v6h-4zM1373 832h4v6h-4zM1373 812h4v6h-4zM1373 792h4v6h-4zM1373 772h4v6h-4zM1373 752h4v6h-4zM1373 733h4v6h-4zM1373 713h4v6h-4zM1373 693h4v6h-4zM1373 673h4v6h-4zM1373 653h4v6h-4zM1373 633h4v6h-4zM1373 613h4v6h-4zM1373 594h4v6h-4zM1373 574h4v6h-4zM1373 554h4v6h-4zM1373 534h4v6h-4zM1373 514h4v6h-4zM1373 494h4v6h-4zM1373 474h4v6h-4zM1373 455h4v6h-4zM1373 435h4v6h-4zM1373 415h4v6h-4zM1373 395h4v6h-4zM1373 375h4v6h-4zM1373 355h4v6h-4zM1373 335h4v6h-4zM1373 316h4v6h-4zM1373 296h4v6h-4zM1373 276h4v6h-4zM1373 256h4v6h-4zM1373 236h4v6h-4zM1373 216h4v6h-4zM1373 196h4v6h-4zM1373 177h4v6h-4zM1373 157h4v6h-4zM1373 137h4v6h-4zM1373 117h4v6h-4zM1373 97h4v6h-4zM1373 77h4v6h-4zM1373 57h4v6h-4z"/>
<path d="M1415 1746h4v6h-4zM1415 1726h4v6h-4zM1415 1706h4v6h-4zM1415 1686h4v6h-4zM1415 1666h4v6h-4zM1415 1646h4v6h-4zM1415 1626h4v6h-4zM1415 1606h4v6h-4zM1415 1587h4v6h-4zM1415 1567h4v6h-4zM1415 1547h4v6h-4zM1415 1527h4v6h-4zM1415 1507h4v6h-4zM1415 1487h4v6h-4zM1415 1467h4v6h-4zM1415 1448h4v6h-4zM1415 1428h4v6h-4zM1415 1408h4v6h-4zM1415 1388h4v6h-4zM1415 1368h4v6h-4zM1415 1348h4v6h-4zM1415 1328h4v6h-4zM1415 1309h4v6h-4zM1415 1289h4v6h-4zM1415 1269h4v6h-4zM1415 1249h4v6h-4zM1415 1229h4v6h-4zM1415 1209h4v6h-4zM1415 1189h4v6h-4zM1415 1170h4v6h-4zM1415 1150h4v6h-4zM1415 1130h4v6h-4zM1415 1110h4v6h-4zM1415 1090h4v6h-4zM1415 1070h4v6h-4zM1415 1050h4v6h-4zM1415 1031h4v6h-4zM1415 1011h4v6h-4zM1415 991h4v6h-4zM1415 971h4v6h-4zM1415 951h4v6h-4zM1415 931h4v6h-4zM1415 911h4v6h-4zM1415 892h4v6h-4zM1415 872h4v6h-4zM1415 852h4v6h-4zM1415 832h4v6h-4zM1415 812h4v6h-4zM1415 792h4v6h-4zM1415 772h4v6h-4zM1415 752h4v6h-4zM1415 733h4v6h-4zM1415 713h4v6h-4zM1415 693h4v6h-4zM1415 673h4v6h-4zM1415 653h4v6h-4zM1415 633h4v6h-4zM1415 613h4v6h-4zM1415 594h4v6h-4zM1415 574h4v6h-4zM1415 554h4v6h-4zM1415 534h4v6h-4zM1415 514h4v6h-4zM1415 494h4v6h-4zM1415 474h4v6h-4zM1415 455h4v6h-4zM1415 435h4v6h-4zM1415 415h4v6h-4zM1415 395h4v6h-4zM1415 375h4v6h-4zM1415 355h4v6h-4zM1415 335h4v6h-4zM1415 316h4v6h-4zM1415 296h4v6h-4zM1415 276h4v6h-4zM1415 256h4v6h-4zM1415 236h4v6h-4zM1415 216h4v6h-4zM1415 196h4v6h-4zM1415 177h4v6h-4zM1415 157h4v6h-4zM1415 137h4v6h-4zM1415 117h4v6h-4zM1415 97h4v6h-4zM1415 77h4v6h-4zM1415 57h4v6h-4z"/>
<path d="M1449 1746h4v6h-4zM1449 1726h4v6h-4zM1449 1706h4v6h-4zM1449 1686h4v6h-4zM1449 1666h4v6h-4zM1449 1646h4v6h-4zM1449 1626h4v6h-4zM1449 1606h4v6h-4zM1449 1587h4v6h-4zM1449 1567h4v6h-4zM1449 1547h4v6h-4zM1449 1527h4v6h-4zM1449 1507h4v6h-4zM1449 1487h4v6h-4zM1449 1467h4v6h-4zM1449 1448h4v6h-4zM1449 1428h4v6h-4zM1449 1408h4v6h-4zM1449 1388h4v6h-4zM1449 1368h4v6h-4zM1449 1348h4v6h-4zM1449 1328h4v6h-4zM1449 1309h4v6h-4zM1449 1289h4v6h-4zM1449 1269h4v6h-4zM1449 1249h4v6h-4zM1449 1229h4v6h-4zM1449 1209h4v6h-4zM1449 1189h4v6h-4zM1449 1170h4v6h-4zM1449 1150h4v6h-4zM1449 1130h4v6h-4zM1449 1110h4v6h-4zM1449 1090h4v6h-4zM1449 1070h4v6h-4zM1449 1050h4v6h-4zM1449 1031h4v6h-4zM1449 1011h4v6h-4zM1449 991h4v6h-4zM1449 971h4v6h-4zM1449 951h4v6h-4zM1449 931h4v6h-4zM1449 911h4v6h-4zM1449 892h4v6h-4zM1449 872h4v6h-4zM1449 852h4v6h-4zM1449 832h4v6h-4zM1449 812h4v6h-4zM1449 792h4v6h-4zM1449 772h4v6h-4zM1449 752h4v6h-4zM1449 733h4v6h-4zM1449 713h4v6h-4zM1449 693h4v6h-4zM1449 673h4v6h-4zM1449 653h4v6h-4zM1449 633h4v6h-4zM1449 613h4v6h-4zM1449 594h4v6h-4zM1449 574h4v6h-4zM1449 554h4v6h-4zM1449 534h4v6h-4zM1449 514h4v6h-4zM1449 494h4v6h-4zM1449 474h4v6h-4zM1449 455h4v6h-4zM1449 435h4v6h-4zM1449 415h4v6h-4zM1449 395h4v6h-4zM1449 375h4v6h-4zM1449 355h4v6h-4zM1449 335h4v6h-4zM1449 316h4v6h-4zM1449 296h4v6h-4zM1449 276h4v6h-4zM1449 256h4v6h-4zM1449 236h4v6h-4zM1449 216h4v6h-4zM1449 196h4v6h-4zM1449 177h4v6h-4zM1449 157h4v6h-4zM1449 137h4v6h-4zM1449 117h4v6h-4zM1449 97h4v6h-4zM1449 77h4v6h-4zM1449 57h4v6h-4z"/>
<path d="M1478 1746h4v6h-4zM1478 1726h4v6h-4zM1478 1706h4v6h-4zM1478 1686h4v6h-4zM1478 1666h4v6h-4zM1478 1646h4v6h-4zM1478 1626h4v6h-4zM1478 1606h4v6h-4zM1478 1587h4v6h-4zM1478 1567h4v6h-4zM1478 1547h4v6h-4zM1478 1527h4v6h-4zM1478 1507h4v6h-4zM1478 1487h4v6h-4zM1478 1467h4v6h-4zM1478 1448h4v6h-4zM1478 1428h4v6h-4zM1478 1408h4v6h-4zM1478 1388h4v6h-4zM1478 1368h4v6h-4zM1478 1348h4v6h-4zM1478 1328h4v6h-4zM1478 1309h4v6h-4zM1478 1289h4v6h-4zM1478 1269h4v6h-4zM1478 1249h4v6h-4zM1478 1229h4v6h-4zM1478 1209h4v6h-4zM1478 1189h4v6h-4zM1478 1170h4v6h-4zM1478 1150h4v6h-4zM1478 1130h4v6h-4zM1478 1110h4v6h-4zM1478 1090h4v6h-4zM1478 1070h4v6h-4zM1478 1050h4v6h-4zM1478 1031h4v6h-4zM1478 1011h4v6h-4zM1478 991h4v6h-4zM1478 971h4v6h-4zM1478 951h4v6h-4zM1478 931h4v6h-4zM1478 911h4v6h-4zM1478 892h4v6h-4zM1478 872h4v6h-4zM1478 852h4v6h-4zM1478 832h4v6h-4zM1478 812h4v6h-4zM1478 792h4v6h-4zM1478 772h4v6h-4zM1478 752h4v6h-4zM1478 733h4v6h-4zM1478 713h4v6h-4zM1478 693h4v6h-4zM1478 673h4v6h-4zM1478 653h4v6h-4zM1478 633h4v6h-4zM1478 613h4v6h-4zM1478 594h4v6h-4zM1478 574h4v6h-4zM1478 554h4v6h-4zM1478 534h4v6h-4zM1478 514h4v6h-4zM1478 494h4v6h-4zM1478 474h4v6h-4zM1478 455h4v6h-4zM1478 435h4v6h-4zM1478 415h4v6h-4zM1478 395h4v6h-4zM1478 375h4v6h-4zM1478 355h4v6h-4zM1478 335h4v6h-4zM1478 316h4v6h-4zM1478 296h4v6h-4zM1478 276h4v6h-4zM1478 256h4v6h-4zM1478 236h4v6h-4zM1478 216h4v6h-4zM1478 196h4v6h-4zM1478 177h4v6h-4zM1478 157h4v6h-4zM1478 137h4v6h-4zM1478 117h4v6h-4zM1478 97h4v6h-4zM1478 77h4v6h-4zM1478 57h4v6h-4z"/>
<path d="M1503 1746h4v6h-4zM1503 1726h4v6h-4zM1503 1706h4v6h-4zM1503 1686h4v6h-4zM1503 1666h4v6h-4zM1503 1646h4v6h-4zM1503 1626h4v6h-4zM1503 1606h4v6h-4zM1503 1587h4v6h-4zM1503 1567h4v6h-4zM1503 1547h4v6h-4zM1503 1527h4v6h-4zM1503 1507h4v6h-4zM1503 1487h4v6h-4zM1503 1467h4v6h-4zM1503 1448h4v6h-4zM1503 1428h4v6h-4zM1503 1408h4v6h-4zM1503 1388h4v6h-4zM1503 1368h4v6h-4zM1503 1348h4v6h-4zM1503 1328h4v6h-4zM1503 1309h4v6h-4zM1503 1289h4v6h-4zM1503 1269h4v6h-4zM1503 1249h4v6h-4zM1503 1229h4v6h-4zM1503 1209h4v6h-4zM1503 1189h4v6h-4zM1503 1170h4v6h-4zM1503 1150h4v6h-4zM1503 1130h4v6h-4zM1503 1110h4v6h-4zM1503 1090h4v6h-4zM1503 1070h4v6h-4zM1503 1050h4v6h-4zM1503 1031h4v6h-4zM1503 1011h4v6h-4zM1503 991h4v6h-4zM1503 971h4v6h-4zM1503 951h4v6h-4zM1503 931h4v6h-4zM1503 911h4v6h-4zM1503 892h4v6h-4zM1503 872h4v6h-4zM1503 852h4v6h-4zM1503 832h4v6h-4zM1503 812h4v6h-4zM1503 792h4v6h-4zM1503 772h4v6h-4zM1503 752h4v6h-4zM1503 733h4v6h-4zM1503 713h4v6h-4zM1503 693h4v6h-4zM1503 673h4v6h-4zM1503 653h4v6h-4zM1503 633h4v6h-4zM1503 613h4v6h-4zM1503 594h4v6h-4zM1503 574h4v6h-4zM1503 554h4v6h-4zM1503 534h4v6h-4zM1503 514h4v6h-4zM1503 494h4v6h-4zM1503 474h4v6h-4zM1503 455h4v6h-4zM1503 435h4v6h-4zM1503 415h4v6h-4zM1503 395h4v6h-4zM1503 375h4v6h-4zM1503 355h4v6h-4zM1503 335h4v6h-4zM1503 316h4v6h-4zM1503 296h4v6h-4zM1503 276h4v6h-4zM1503 256h4v6h-4zM1503 236h4v6h-4zM1503 216h4v6h-4zM1503 196h4v6h-4zM1503 177h4v6h-4zM1503 157h4v6h-4zM1503 137h4v6h-4zM1503 117h4v6h-4zM1503 97h4v6h-4zM1503 77h4v6h-4zM1503 57h4v6h-4z"/>
<path d="M1525 1746h4v6h-4zM1525 1726h4v6h-4zM1525 1706h4v6h-4zM1525 1686h4v6h-4zM1525 1666h4v6h-4zM1525 1646h4v6h-4zM1525 1626h4v6h-4zM1525 1606h4v6h-4zM1525 1587h4v6h-4zM1525 1567h4v6h-4zM1525 1547h4v6h-4zM1525 1527h4v6h-4zM1525 1507h4v6h-4zM1525 1487h4v6h-4zM1525 1467h4v6h-4zM1525 1448h4v6h-4zM1525 1428h4v6h-4zM1525 1408h4v6h-4zM1525 1388h4v6h-4zM1525 1368h4v6h-4zM1525 1348h4v6h-4zM1525 1328h4v6h-4zM1525 1309h4v6h-4zM1525 1289h4v6h-4zM1525 1269h4v6h-4zM1525 1249h4v6h-4zM1525 1229h4v6h-4zM1525 1209h4v6h-4zM1525 1189h4v6h-4zM1525 1170h4v6h-4zM1525 1150h4v6h-4zM1525 1130h4v6h-4zM1525 1110h4v6h-4zM1525 1090h4v6h-4zM1525 1070h4v6h-4zM1525 1050h4v6h-4zM1525 1031h4v6h-4zM1525 1011h4v6h-4zM1525 991h4v6h-4zM1525 971h4v6h-4zM1525 951h4v6h-4zM1525 931h4v6h-4zM1525 911h4v6h-4zM1525 892h4v6h-4zM1525 872h4v6h-4zM1525 852h4v6h-4zM1525 832h4v6h-4zM1525 812h4v6h-4zM1525 792h4v6h-4zM1525 772h4v6h-4zM1525 752h4v6h-4zM1525 733h4v6h-4zM1525 713h4v6h-4zM1525 693h4v6h-4zM1525 673h4v6h-4zM1525 653h4v6h-4zM1525 633h4v6h-4zM1525 613h4v6h-4zM1525 594h4v6h-4zM1525 574h4v6h-4zM1525 554h4v6h-4zM1525 534h4v6h-4zM1525 514h4v6h-4zM1525 494h4v6h-4zM1525 474h4v6h-4zM1525 455h4v6h-4zM1525 435h4v6h-4zM1525 415h4v6h-4zM1525 395h4v6h-4zM1525 375h4v6h-4zM1525 355h4v6h-4zM1525 335h4v6h-4zM1525 316h4v6h-4zM1525 296h4v6h-4zM1525 276h4v6h-4zM1525 256h4v6h-4zM1525 236h4v6h-4zM1525 216h4v6h-4zM1525 196h4v6h-4zM1525 177h4v6h-4zM1525 157h4v6h-4zM1525 137h4v6h-4zM1525 117h4v6h-4zM1525 97h4v6h-4zM1525 77h4v6h-4zM1525 57h4v6h-4z"/>
<path d="M1674 1746h5v6h-5zM1674 1726h5v6h-5zM1674 1706h5v6h-5zM1674 1686h5v6h-5zM1674 1666h5v6h-5zM1674 1646h5v6h-5zM1674 1626h5v6h-5zM1674 1606h5v6h-5zM1674 1587h5v6h-5zM1674 1567h5v6h-5zM1674 1547h5v6h-5zM1674 1527h5v6h-5zM1674 1507h5v6h-5zM1674 1487h5v6h-5zM1674 1467h5v6h-5zM1674 1448h5v6h-5zM1674 1428h5v6h-5zM1674 1408h5v6h-5zM1674 1388h5v6h-5zM1674 1368h5v6h-5zM1674 1348h5v6h-5zM1674 1328h5v6h-5zM1674 1309h5v6h-5zM1674 1289h5v6h-5zM1674 1269h5v6h-5zM1674 1249h5v6h-5zM1674 1229h5v6h-5zM1674 1209h5v6h-5zM1674 1189h5v6h-5zM1674 1170h5v6h-5zM1674 1150h5v6h-5zM1674 1130h5v6h-5zM1674 1110h5v6h-5zM1674 1090h5v6h-5zM1674 1070h5v6h-5zM1674 1050h5v6h-5zM1674 1031h5v6h-5zM1674 1011h5v6h-5zM1674 991h5v6h-5zM1674 971h5v6h-5zM1674 951h5v6h-5zM1674 931h5v6h-5zM1674 911h5v6h-5zM1674 892h5v6h-5zM1674 872h5v6h-5zM1674 852h5v6h-5zM1674 832h5v6h-5zM1674 812h5v6h-5zM1674 792h5v6h-5zM1674 772h5v6h-5zM1674 752h5v6h-5zM1674 733h5v6h-5zM1674 713h5v6h-5zM1674 693h5v6h-5zM1674 673h5v6h-5zM1674 653h5v6h-5zM1674 633h5v6h-5zM1674 613h5v6h-5zM1674 594h5v6h-5zM1674 574h5v6h-5zM1674 554h5v6h-5zM1674 534h5v6h-5zM1674 514h5v6h-5zM1674 494h5v6h-5zM1674 474h5v6h-5zM1674 455h5v6h-5zM1674 435h5v6h-5zM1674 415h5v6h-5zM1674 395h5v6h-5zM1674 375h5v6h-5zM1674 355h5v6h-5zM1674 335h5v6h-5zM1674 316h5v6h-5zM1674 296h5v6h-5zM1674 276h5v6h-5zM1674 256h5v6h-5zM1674 236h5v6h-5zM1674 216h5v6h-5zM1674 196h5v6h-5zM1674 177h5v6h-5zM1674 157h5v6h-5zM1674 137h5v6h-5zM1674 117h5v6h-5zM1674 97h5v6h-5zM1674 77h5v6h-5zM1674 57h5v6h-5z"/>
<path d="M1750 1746h5v6h-5zM1750 1726h5v6h-5zM1750 1706h5v6h-5zM1750 1686h5v6h-5zM1750 1666h5v6h-5zM1750 1646h5v6h-5zM1750 1626h5v6h-5zM1750 1606h5v6h-5zM1750 1587h5v6h-5zM1750 1567h5v6h-5zM1750 1547h5v6h-5zM1750 1527h5v6h-5zM1750 1507h5v6h-5zM1750 1487h5v6h-5zM1750 1467h5v6h-5zM1750 1448h5v6h-5zM1750 1428h5v6h-5zM1750 1408h5v6h-5zM1750 1388h5v6h-5zM1750 1368h5v6h-5zM1750 1348h5v6h-5zM1750 1328h5v6h-5zM1750 1309h5v6h-5zM1750 1289h5v6h-5zM1750 1269h5v6h-5zM1750 1249h5v6h-5zM1750 1229h5v6h-5zM1750 1209h5v6h-5zM1750 1189h5v6h-5zM1750 1170h5v6h-5zM1750 1150h5v6h-5zM1750 1130h5v6h-5zM1750 1110h5v6h-5zM1750 1090h5v6h-5zM1750 1070h5v6h-5zM1750 1050h5v6h-5zM1750 1031h5v6h-5zM1750 1011h5v6h-5zM1750 991h5v6h-5zM1750 971h5v6h-5zM1750 951h5v6h-5zM1750 931h5v6h-5zM1750 911h5v6h-5zM1750 892h5v6h-5zM1750 872h5v6h-5zM1750 852h5v6h-5zM1750 832h5v6h-5zM1750 812h5v6h-5zM1750 792h5v6h-5zM1750 772h5v6h-5zM1750 752h5v6h-5zM1750 733h5v6h-5zM1750 713h5v6h-5zM1750 693h5v6h-5zM1750 673h5v6h-5zM1750 653h5v6h-5zM1750 633h5v6h-5zM1750 613h5v6h-5zM1750 594h5v6h-5zM1750 574h5v6h-5zM1750 554h5v6h-5zM1750 534h5v6h-5zM1750 514h5v6h-5zM1750 494h5v6h-5zM1750 474h5v6h-5zM1750 455h5v6h-5zM1750 435h5v6h-5zM1750 415h5v6h-5zM1750 395h5v6h-5zM1750 375h5v6h-5zM1750 355h5v6h-5zM1750 335h5v6h-5zM1750 316h5v6h-5zM1750 296h5v6h-5zM1750 276h5v6h-5zM1750 256h5v6h-5zM1750 236h5v6h-5zM1750 216h5v6h-5zM1750 196h5v6h-5zM1750 177h5v6h-5zM1750 157h5v6h-5zM1750 137h5v6h-5zM1750 117h5v6h-5zM1750 97h5v6h-5zM1750 77h5v6h-5zM1750 57h5v6h-5z"/>
<path d="M1804 1746h4v6h-4zM1804 1726h4v6h-4zM1804 1706h4v6h-4zM1804 1686h4v6h-4zM1804 1666h4v6h-4zM1804 1646h4v6h-4zM1804 1626h4v6h-4zM1804 1606h4v6h-4zM1804 1587h4v6h-4zM1804 1567h4v6h-4zM1804 1547h4v6h-4zM1804 1527h4v6h-4zM1804 1507h4v6h-4zM1804 1487h4v6h-4zM1804 1467h4v6h-4zM1804 1448h4v6h-4zM1804 1428h4v6h-4zM1804 1408h4v6h-4zM1804 1388h4v6h-4zM1804 1368h4v6h-4zM1804 1348h4v6h-4zM1804 1328h4v6h-4zM1804 1309h4v6h-4zM1804 1289h4v6h-4zM1804 1269h4v6h-4zM1804 1249h4v6h-4zM1804 1229h4v6h-4zM1804 1209h4v6h-4zM1804 1189h4v6h-4zM1804 1170h4v6h-4zM1804 1150h4v6h-4zM1804 1130h4v6h-4zM1804 1110h4v6h-4zM1804 1090h4v6h-4zM1804 1070h4v6h-4zM1804 1050h4v6h-4zM1804 1031h4v6h-4zM1804 1011h4v6h-4zM1804 991h4v6h-4zM1804 971h4v6h-4zM1804 951h4v6h-4zM1804 931h4v6h-4zM1804 911h4v6h-4zM1804 892h4v6h-4zM1804 872h4v6h-4zM1804 852h4v6h-4zM1804 832h4v6h-4zM1804 812h4v6h-4zM1804 792h4v6h-4zM1804 772h4v6h-4zM1804 752h4v6h-4zM1804 733h4v6h-4zM1804 713h4v6h-4zM1804 693h4v6h-4zM1804 673h4v6h-4zM1804 653h4v6h-4zM1804 633h4v6h-4zM1804 613h4v6h-4zM1804 594h4v6h-4zM1804 574h4v6h-4zM1804 554h4v6h-4zM1804 534h4v6h-4zM1804 514h4v6h-4zM1804 494h4v6h-4zM1804 474h4v6h-4zM1804 455h4v6h-4zM1804 435h4v6h-4zM1804 415h4v6h-4zM1804 395h4v6h-4zM1804 375h4v6h-4zM1804 355h4v6h-4zM1804 335h4v6h-4zM1804 316h4v6h-4zM1804 296h4v6h-4zM1804 276h4v6h-4zM1804 256h4v6h-4zM1804 236h4v6h-4zM1804 216h4v6h-4zM1804 196h4v6h-4zM1804 177h4v6h-4zM1804 157h4v6h-4zM1804 137h4v6h-4zM1804 117h4v6h-4zM1804 97h4v6h-4zM1804 77h4v6h-4zM1804 57h4v6h-4z"/>
<path d="M1846 1746h4v6h-4zM1846 1726h4v6h-4zM1846 1706h4v6h-4zM1846 1686h4v6h-4zM1846 1666h4v6h-4zM1846 1646h4v6h-4zM1846 1626h4v6h-4zM1846 1606h4v6h-4zM1846 1587h4v6h-4zM1846 1567h4v6h-4zM1846 1547h4v6h-4zM1846 1527h4v6h-4zM1846 1507h4v6h-4zM1846 1487h4v6h-4zM1846 1467h4v6h-4zM1846 1448h4v6h-4zM1846 1428h4v6h-4zM1846 1408h4v6h-4zM1846 1388h4v6h-4zM1846 1368h4v6h-4zM1846 1348h4v6h-4zM1846 1328h4v6h-4zM1846 1309h4v6h-4zM1846 1289h4v6h-4zM1846 1269h4v6h-4zM1846 1249h4v6h-4zM1846 1229h4v6h-4zM1846 1209h4v6h-4zM1846 1189h4v6h-4zM1846 1170h4v6h-4zM1846 1150h4v6h-4zM1846 1130h4v6h-4zM1846 1110h4v6h-4zM1846 1090h4v6h-4zM1846 1070h4v6h-4zM1846 1050h4v6h-4zM1846 1031h4v6h-4zM1846 1011h4v6h-4zM1846 991h4v6h-4zM1846 971h4v6h-4zM1846 951h4v6h-4zM1846 931h4v6h-4zM1846 911h4v6h-4zM1846 892h4v6h-4zM1846 872h4v6h-4zM1846 852h4v6h-4zM1846 832h4v6h-4zM1846 812h4v6h-4zM1846 792h4v6h-4zM1846 772h4v6h-4zM1846 752h4v6h-4zM1846 733h4v6h-4zM1846 713h4v6h-4zM1846 693h4v6h-4zM1846 673h4v6h-4zM1846 653h4v6h-4zM1846 633h4v6h-4zM1846 613h4v6h-4zM1846 594h4v6h-4zM1846 574h4v6h-4zM1846 554h4v6h-4zM1846 534h4v6h-4zM1846 514h4v6h-4zM1846 494h4v6h-4zM1846 474h4v6h-4zM1846 455h4v6h-4zM1846 435h4v6h-4zM1846 415h4v6h-4zM1846 395h4v6h-4zM1846 375h4v6h-4zM1846 355h4v6h-4zM1846 335h4v6h-4zM1846 316h4v6h-4zM1846 296h4v6h-4zM1846 276h4v6h-4zM1846 256h4v6h-4zM1846 236h4v6h-4zM1846 216h4v6h-4zM1846 196h4v6h-4zM1846 177h4v6h-4zM1846 157h4v6h-4zM1846 137h4v6h-4zM1846 117h4v6h-4zM1846 97h4v6h-4zM1846 77h4v6h-4zM1846 57h4v6h-4z"/>
<path d="M1880 1746h4v6h-4zM1880 1726h4v6h-4zM1880 1706h4v6h-4zM1880 1686h4v6h-4zM1880 1666h4v6h-4zM1880 1646h4v6h-4zM1880 1626h4v6h-4zM1880 1606h4v6h-4zM1880 1587h4v6h-4zM1880 1567h4v6h-4zM1880 1547h4v6h-4zM1880 1527h4v6h-4zM1880 1507h4v6h-4zM1880 1487h4v6h-4zM1880 1467h4v6h-4zM1880 1448h4v6h-4zM1880 1428h4v6h-4zM1880 1408h4v6h-4zM1880 1388h4v6h-4zM1880 1368h4v6h-4zM1880 1348h4v6h-4zM1880 1328h4v6h-4zM1880 1309h4v6h-4zM1880 1289h4v6h-4zM1880 1269h4v6h-4zM1880 1249h4v6h-4zM1880 1229h4v6h-4zM1880 1209h4v6h-4zM1880 1189h4v6h-4zM1880 1170h4v6h-4zM1880 1150h4v6h-4zM1880 1130h4v6h-4zM1880 1110h4v6h-4zM1880 1090h4v6h-4zM1880 1070h4v6h-4zM1880 1050h4v6h-4zM1880 1031h4v6h-4zM1880 1011h4v6h-4zM1880 991h4v6h-4zM1880 971h4v6h-4zM1880 951h4v6h-4zM1880 931h4v6h-4zM1880 911h4v6h-4zM1880 892h4v6h-4zM1880 872h4v6h-4zM1880 852h4v6h-4zM1880 832h4v6h-4zM1880 812h4v6h-4zM1880 792h4v6h-4zM1880 772h4v6h-4zM1880 752h4v6h-4zM1880 733h4v6h-4zM1880 713h4v6h-4zM1880 693h4v6h-4zM1880 673h4v6h-4zM1880 653h4v6h-4zM1880 633h4v6h-4zM1880 613h4v6h-4zM1880 594h4v6h-4zM1880 574h4v6h-4zM1880 554h4v6h-4zM1880 534h4v6h-4zM1880 514h4v6h-4zM1880 494h4v6h-4zM1880 474h4v6h-4zM1880 455h4v6h-4zM1880 435h4v6h-4zM1880 415h4v6h-4zM1880 395h4v6h-4zM1880 375h4v6h-4zM1880 355h4v6h-4zM1880 335h4v6h-4zM1880 316h4v6h-4zM1880 296h4v6h-4zM1880 276h4v6h-4zM1880 256h4v6h-4zM1880 236h4v6h-4zM1880 216h4v6h-4zM1880 196h4v6h-4zM1880 177h4v6h-4zM1880 157h4v6h-4zM1880 137h4v6h-4zM1880 117h4v6h-4zM1880 97h4v6h-4zM1880 77h4v6h-4zM1880 57h4v6h-4z"/>
<path d="M1909 1746h4v6h-4zM1909 1726h4v6h-4zM1909 1706h4v6h-4zM1909 1686h4v6h-4zM1909 1666h4v6h-4zM1909 1646h4v6h-4zM1909 1626h4v6h-4zM1909 1606h4v6h-4zM1909 1587h4v6h-4zM1909 1567h4v6h-4zM1909 1547h4v6h-4zM1909 1527h4v6h-4zM1909 1507h4v6h-4zM1909 1487h4v6h-4zM1909 1467h4v6h-4zM1909 1448h4v6h-4zM1909 1428h4v6h-4zM1909 1408h4v6h-4zM1909 1388h4v6h-4zM1909 1368h4v6h-4zM1909 1348h4v6h-4zM1909 1328h4v6h-4zM1909 1309h4v6h-4zM1909 1289h4v6h-4zM1909 1269h4v6h-4zM1909 1249h4v6h-4zM1909 1229h4v6h-4zM1909 1209h4v6h-4zM1909 1189h4v6h-4zM1909 1170h4v6h-4zM1909 1150h4v6h-4zM1909 1130h4v6h-4zM1909 1110h4v6h-4zM1909 1090h4v6h-4zM1909 1070h4v6h-4zM1909 1050h4v6h-4zM1909 1031h4v6h-4zM1909 1011h4v6h-4zM1909 991h4v6h-4zM1909 971h4v6h-4zM1909 951h4v6h-4zM1909 931h4v6h-4zM1909 911h4v6h-4zM1909 892h4v6h-4zM1909 872h4v6h-4zM1909 852h4v6h-4zM1909 832h4v6h-4zM1909 812h4v6h-4zM1909 792h4v6h-4zM1909 772h4v6h-4zM1909 752h4v6h-4zM1909 733h4v6h-4zM1909 713h4v6h-4zM1909 693h4v6h-4zM1909 673h4v6h-4zM1909 653h4v6h-4zM1909 633h4v6h-4zM1909 613h4v6h-4zM1909 594h4v6h-4zM1909 574h4v6h-4zM1909 554h4v6h-4zM1909 534h4v6h-4zM1909 514h4v6h-4zM1909 494h4v6h-4zM1909 474h4v6h-4zM1909 455h4v6h-4zM1909 435h4v6h-4zM1909 415h4v6h-4zM1909 395h4v6h-4zM1909 375h4v6h-4zM1909 355h4v6h-4zM1909 335h4v6h-4zM1909 316h4v6h-4zM1909 296h4v6h-4zM1909 276h4v6h-4zM1909 256h4v6h-4zM1909 236h4v6h-4zM1909 216h4v6h-4zM1909 196h4v6h-4zM1909 177h4v6h-4zM1909 157h4v6h-4zM1909 137h4v6h-4zM1909 117h4v6h-4zM1909 97h4v6h-4zM1909 77h4v6h-4zM1909 57h4v6h-4z"/>
<path d="M1934 1746h4v6h-4zM1934 1726h4v6h-4zM1934 1706h4v6h-4zM1934 1686h4v6h-4zM1934 1666h4v6h-4zM1934 1646h4v6h-4zM1934 1626h4v6h-4zM1934 1606h4v6h-4zM1934 1587h4v6h-4zM1934 1567h4v6h-4zM1934 1547h4v6h-4zM1934 1527h4v6h-4zM1934 1507h4v6h-4zM1934 1487h4v6h-4zM1934 1467h4v6h-4zM1934 1448h4v6h-4zM1934 1428h4v6h-4zM1934 1408h4v6h-4zM1934 1388h4v6h-4zM1934 1368h4v6h-4zM1934 1348h4v6h-4zM1934 1328h4v6h-4zM1934 1309h4v6h-4zM1934 1289h4v6h-4zM1934 1269h4v6h-4zM1934 1249h4v6h-4zM1934 1229h4v6h-4zM1934 1209h4v6h-4zM1934 1189h4v6h-4zM1934 1170h4v6h-4zM1934 1150h4v6h-4zM1934 1130h4v6h-4zM1934 1110h4v6h-4zM1934 1090h4v6h-4zM1934 1070h4v6h-4zM1934 1050h4v6h-4zM1934 1031h4v6h-4zM1934 1011h4v6h-4zM1934 991h4v6h-4zM1934 971h4v6h-4zM1934 951h4v6h-4zM1934 931h4v6h-4zM1934 911h4v6h-4zM1934 892h4v6h-4zM1934 872h4v6h-4zM1934 852h4v6h-4zM1934 832h4v6h-4zM1934 812h4v6h-4zM1934 792h4v6h-4zM1934 772h4v6h-4zM1934 752h4v6h-4zM1934 733h4v6h-4zM1934 713h4v6h-4zM1934 693h4v6h-4zM1934 673h4v6h-4zM1934 653h4v6h-4zM1934 633h4v6h-4zM1934 613h4v6h-4zM1934 594h4v6h-4zM1934 574h4v6h-4zM1934 554h4v6h-4zM1934 534h4v6h-4zM1934 514h4v6h-4zM1934 494h4v6h-4zM1934 474h4v6h-4zM1934 455h4v6h-4zM1934 435h4v6h-4zM1934 415h4v6h-4zM1934 395h4v6h-4zM1934 375h4v6h-4zM1934 355h4v6h-4zM1934 335h4v6h-4zM1934 316h4v6h-4zM1934 296h4v6h-4zM1934 276h4v6h-4zM1934 256h4v6h-4zM1934 236h4v6h-4zM1934 216h4v6h-4zM1934 196h4v6h-4zM1934 177h4v6h-4zM1934 157h4v6h-4zM1934 137h4v6h-4zM1934 117h4v6h-4zM1934 97h4v6h-4zM1934 77h4v6h-4zM1934 57h4v6h-4z"/>
<path d="M1956 1746h4v6h-4zM1956 1726h4v6h-4zM1956 1706h4v6h-4zM1956 1686h4v6h-4zM1956 1666h4v6h-4zM1956 1646h4v6h-4zM1956 1626h4v6h-4zM1956 1606h4v6h-4zM1956 1587h4v6h-4zM1956 1567h4v6h-4zM1956 1547h4v6h-4zM1956 1527h4v6h-4zM1956 1507h4v6h-4zM1956 1487h4v6h-4zM1956 1467h4v6h-4zM1956 1448h4v6h-4zM1956 1428h4v6h-4zM1956 1408h4v6h-4zM1956 1388h4v6h-4zM1956 1368h4v6h-4zM1956 1348h4v6h-4zM1956 1328h4v6h-4zM1956 1309h4v6h-4zM1956 1289h4v6h-4zM1956 1269h4v6h-4zM1956 1249h4v6h-4zM1956 1229h4v6h-4zM1956 1209h4v6h-4zM1956 1189h4v6h-4zM1956 1170h4v6h-4zM1956 1150h4v6h-4zM1956 1130h4v6h-4zM1956 1110h4v6h-4zM1956 1090h4v6h-4zM1956 1070h4v6h-4zM1956 1050h4v6h-4zM1956 1031h4v6h-4zM1956 1011h4v6h-4zM1956 991h4v6h-4zM1956 971h4v6h-4zM1956 951h4v6h-4zM1956 931h4v6h-4zM1956 911h4v6h-4zM1956 892h4v6h-4zM1956 872h4v6h-4zM1956 852h4v6h-4zM1956 832h4v6h-4zM1956 812h4v6h-4zM1956 792h4v6h-4zM1956 772h4v6h-4zM1956 752h4v6h-4zM1956 733h4v6h-4zM1956 713h4v6h-4zM1956 693h4v6h-4zM1956 673h4v6h-4zM1956 653h4v6h-4zM1956 633h4v6h-4zM1956 613h4v6h-4zM1956 594h4v6h-4zM1956 574h4v6h-4zM1956 554h4v6h-4zM1956 534h4v6h-4zM1956 514h4v6h-4zM1956 494h4v6h-4zM1956 474h4v6h-4zM1956 455h4v6h-4zM1956 435h4v6h-4zM1956 415h4v6h-4zM1956 395h4v6h-4zM1956 375h4v6h-4zM1956 355h4v6h-4zM1956 335h4v6h-4zM1956 316h4v6h-4zM1956 296h4v6h-4zM1956 276h4v6h-4zM1956 256h4v6h-4zM1956 236h4v6h-4zM1956 216h4v6h-4zM1956 196h4v6h-4zM1956 177h4v6h-4zM1956 157h4v6h-4zM1956 137h4v6h-4zM1956 117h4v6h-4zM1956 97h4v6h-4zM1956 77h4v6h-4zM1956 57h4v6h-4z"/>
<path d="M2106 1746h4v6h-4zM2106 1726h4v6h-4zM2106 1706h4v6h-4zM2106 1686h4v6h-4zM2106 1666h4v6h-4zM2106 1646h4v6h-4zM2106 1626h4v6h-4zM2106 1606h4v6h-4zM2106 1587h4v6h-4zM2106 1567h4v6h-4zM2106 1547h4v6h-4zM2106 1527h4v6h-4zM2106 1507h4v6h-4zM2106 1487h4v6h-4zM2106 1467h4v6h-4zM2106 1448h4v6h-4zM2106 1428h4v6h-4zM2106 1408h4v6h-4zM2106 1388h4v6h-4zM2106 1368h4v6h-4zM2106 1348h4v6h-4zM2106 1328h4v6h-4zM2106 1309h4v6h-4zM2106 1289h4v6h-4zM2106 1269h4v6h-4zM2106 1249h4v6h-4zM2106 1229h4v6h-4zM2106 1209h4v6h-4zM2106 1189h4v6h-4zM2106 1170h4v6h-4zM2106 1150h4v6h-4zM2106 1130h4v6h-4zM2106 1110h4v6h-4zM2106 1090h4v6h-4zM2106 1070h4v6h-4zM2106 1050h4v6h-4zM2106 1031h4v6h-4zM2106 1011h4v6h-4zM2106 991h4v6h-4zM2106 971h4v6h-4zM2106 951h4v6h-4zM2106 931h4v6h-4zM2106 911h4v6h-4zM2106 892h4v6h-4zM2106 872h4v6h-4zM2106 852h4v6h-4zM2106 832h4v6h-4zM2106 812h4v6h-4zM2106 792h4v6h-4zM2106 772h4v6h-4zM2106 752h4v6h-4zM2106 733h4v6h-4zM2106 713h4v6h-4zM2106 693h4v6h-4zM2106 673h4v6h-4zM2106 653h4v6h-4zM2106 633h4v6h-4zM2106 613h4v6h-4zM2106 594h4v6h-4zM2106 574h4v6h-4zM2106 554h4v6h-4zM2106 534h4v6h-4zM2106 514h4v6h-4zM2106 494h4v6h-4zM2106 474h4v6h-4zM2106 455h4v6h-4zM2106 435h4v6h-4zM2106 415h4v6h-4zM2106 395h4v6h-4zM2106 375h4v6h-4zM2106 355h4v6h-4zM2106 335h4v6h-4zM2106 316h4v6h-4zM2106 296h4v6h-4zM2106 276h4v6h-4zM2106 256h4v6h-4zM2106 236h4v6h-4zM2106 216h4v6h-4zM2106 196h4v6h-4zM2106 177h4v6h-4zM2106 157h4v6h-4zM2106 137h4v6h-4zM2106 117h4v6h-4zM2106 97h4v6h-4zM2106 77h4v6h-4zM2106 57h4v6h-4z"/>
<path d="M2182 1746h4v6h-4zM2182 1726h4v6h-4zM2182 1706h4v6h-4zM2182 1686h4v6h-4zM2182 1666h4v6h-4zM2182 1646h4v6h-4zM2182 1626h4v6h-4zM2182 1606h4v6h-4zM2182 1587h4v6h-4zM2182 1567h4v6h-4zM2182 1547h4v6h-4zM2182 1527h4v6h-4zM2182 1507h4v6h-4zM2182 1487h4v6h-4zM2182 1467h4v6h-4zM2182 1448h4v6h-4zM2182 1428h4v6h-4zM2182 1408h4v6h-4zM2182 1388h4v6h-4zM2182 1368h4v6h-4zM2182 1348h4v6h-4zM2182 1328h4v6h-4zM2182 1309h4v6h-4zM2182 1289h4v6h-4zM2182 1269h4v6h-4zM2182 1249h4v6h-4zM2182 1229h4v6h-4zM2182 1209h4v6h-4zM2182 1189h4v6h-4zM2182 1170h4v6h-4zM2182 1150h4v6h-4zM2182 1130h4v6h-4zM2182 1110h4v6h-4zM2182 1090h4v6h-4zM2182 1070h4v6h-4zM2182 1050h4v6h-4zM2182 1031h4v6h-4zM2182 1011h4v6h-4zM2182 991h4v6h-4zM2182 971h4v6h-4zM2182 951h4v6h-4zM2182 931h4v6h-4zM2182 911h4v6h-4zM2182 892h4v6h-4zM2182 872h4v6h-4zM2182 852h4v6h-4zM2182 832h4v6h-4zM2182 812h4v6h-4zM2182 792h4v6h-4zM2182 772h4v6h-4zM2182 752h4v6h-4zM2182 733h4v6h-4zM2182 713h4v6h-4zM2182 693h4v6h-4zM2182 673h4v6h-4zM2182 653h4v6h-4zM2182 633h4v6h-4zM2182 613h4v6h-4zM2182 594h4v6h-4zM2182 574h4v6h-4zM2182 554h4v6h-4zM2182 534h4v6h-4zM2182 514h4v6h-4zM2182 494h4v6h-4zM2182 474h4v6h-4zM2182 455h4v6h-4zM2182 435h4v6h-4zM2182 415h4v6h-4zM2182 395h4v6h-4zM2182 375h4v6h-4zM2182 355h4v6h-4zM2182 335h4v6h-4zM2182 316h4v6h-4zM2182 296h4v6h-4zM2182 276h4v6h-4zM2182 256h4v6h-4zM2182 236h4v6h-4zM2182 216h4v6h-4zM2182 196h4v6h-4zM2182 177h4v6h-4zM2182 157h4v6h-4zM2182 137h4v6h-4zM2182 117h4v6h-4zM2182 97h4v6h-4zM2182 77h4v6h-4zM2182 57h4v6h-4z"/>
<path d="M2235 1746h5v6h-5zM2235 1726h5v6h-5zM2235 1706h5v6h-5zM2235 1686h5v6h-5zM2235 1666h5v6h-5zM2235 1646h5v6h-5zM2235 1626h5v6h-5zM2235 1606h5v6h-5zM2235 1587h5v6h-5zM2235 1567h5v6h-5zM2235 1547h5v6h-5zM2235 1527h5v6h-5zM2235 1507h5v6h-5zM2235 1487h5v6h-5zM2235 1467h5v6h-5zM2235 1448h5v6h-5zM2235 1428h5v6h-5zM2235 1408h5v6h-5zM2235 1388h5v6h-5zM2235 1368h5v6h-5zM2235 1348h5v6h-5zM2235 1328h5v6h-5zM2235 1309h5v6h-5zM2235 1289h5v6h-5zM2235 1269h5v6h-5zM2235 1249h5v6h-5zM2235 1229h5v6h-5zM2235 1209h5v6h-5zM2235 1189h5v6h-5zM2235 1170h5v6h-5zM2235 1150h5v6h-5zM2235 1130h5v6h-5zM2235 1110h5v6h-5zM2235 1090h5v6h-5zM2235 1070h5v6h-5zM2235 1050h5v6h-5zM2235 1031h5v6h-5zM2235 1011h5v6h-5zM2235 991h5v6h-5zM2235 971h5v6h-5zM2235 951h5v6h-5zM2235 931h5v6h-5zM2235 911h5v6h-5zM2235 892h5v6h-5zM2235 872h5v6h-5zM2235 852h5v6h-5zM2235 832h5v6h-5zM2235 812h5v6h-5zM2235 792h5v6h-5zM2235 772h5v6h-5zM2235 752h5v6h-5zM2235 733h5v6h-5zM2235 713h5v6h-5zM2235 693h5v6h-5zM2235 673h5v6h-5zM2235 653h5v6h-5zM2235 633h5v6h-5zM2235 613h5v6h-5zM2235 594h5v6h-5zM2235 574h5v6h-5zM2235 554h5v6h-5zM2235 534h5v6h-5zM2235 514h5v6h-5zM2235 494h5v6h-5zM2235 474h5v6h-5zM2235 455h5v6h-5zM2235 435h5v6h-5zM2235 415h5v6h-5zM2235 395h5v6h-5zM2235 375h5v6h-5zM2235 355h5v6h-5zM2235 335h5v6h-5zM2235 316h5v6h-5zM2235 296h5v6h-5zM2235 276h5v6h-5zM2235 256h5v6h-5zM2235 236h5v6h-5zM2235 216h5v6h-5zM2235 196h5v6h-5zM2235 177h5v6h-5zM2235 157h5v6h-5zM2235 137h5v6h-5zM2235 117h5v6h-5zM2235 97h5v6h-5zM2235 77h5v6h-5zM2235 57h5v6h-5z"/>
<path d="M2277 1746h4v6h-4zM2277 1726h4v6h-4zM2277 1706h4v6h-4zM2277 1686h4v6h-4zM2277 1666h4v6h-4zM2277 1646h4v6h-4zM2277 1626h4v6h-4zM2277 1606h4v6h-4zM2277 1587h4v6h-4zM2277 1567h4v6h-4zM2277 1547h4v6h-4zM2277 1527h4v6h-4zM2277 1507h4v6h-4zM2277 1487h4v6h-4zM2277 1467h4v6h-4zM2277 1448h4v6h-4zM2277 1428h4v6h-4zM2277 1408h4v6h-4zM2277 1388h4v6h-4zM2277 1368h4v6h-4zM2277 1348h4v6h-4zM2277 1328h4v6h-4zM2277 1309h4v6h-4zM2277 1289h4v6h-4zM2277 1269h4v6h-4zM2277 1249h4v6h-4zM2277 1229h4v6h-4zM2277 1209h4v6h-4zM2277 1189h4v6h-4zM2277 1170h4v6h-4zM2277 1150h4v6h-4zM2277 1130h4v6h-4zM2277 1110h4v6h-4zM2277 1090h4v6h-4zM2277 1070h4v6h-4zM2277 1050h4v6h-4zM2277 1031h4v6h-4zM2277 1011h4v6h-4zM2277 991h4v6h-4zM2277 971h4v6h-4zM2277 951h4v6h-4zM2277 931h4v6h-4zM2277 911h4v6h-4zM2277 892h4v6h-4zM2277 872h4v6h-4zM2277 852h4v6h-4zM2277 832h4v6h-4zM2277 812h4v6h-4zM2277 792h4v6h-4zM2277 772h4v6h-4zM2277 752h4v6h-4zM2277 733h4v6h-4zM2277 713h4v6h-4zM2277 693h4v6h-4zM2277 673h4v6h-4zM2277 653h4v6h-4zM2277 633h4v6h-4zM2277 613h4v6h-4zM2277 594h4v6h-4zM2277 574h4v6h-4zM2277 554h4v6h-4zM2277 534h4v6h-4zM2277 514h4v6h-4zM2277 494h4v6h-4zM2277 474h4v6h-4zM2277 455h4v6h-4zM2277 435h4v6h-4zM2277 415h4v6h-4zM2277 395h4v6h-4zM2277 375h4v6h-4zM2277 355h4v6h-4zM2277 335h4v6h-4zM2277 316h4v6h-4zM2277 296h4v6h-4zM2277 276h4v6h-4zM2277 256h4v6h-4zM2277 236h4v6h-4zM2277 216h4v6h-4zM2277 196h4v6h-4zM2277 177h4v6h-4zM2277 157h4v6h-4zM2277 137h4v6h-4zM2277 117h4v6h-4zM2277 97h4v6h-4zM2277 77h4v6h-4zM2277 57h4v6h-4z"/>
<path d="M2311 1746h5v6h-5zM2311 1726h5v6h-5zM2311 1706h5v6h-5zM2311 1686h5v6h-5zM2311 1666h5v6h-5zM2311 1646h5v6h-5zM2311 1626h5v6h-5zM2311 1606h5v6h-5zM2311 1587h5v6h-5zM2311 1567h5v6h-5zM2311 1547h5v6h-5zM2311 1527h5v6h-5zM2311 1507h5v6h-5zM2311 1487h5v6h-5zM2311 1467h5v6h-5zM2311 1448h5v6h-5zM2311 1428h5v6h-5zM2311 1408h5v6h-5zM2311 1388h5v6h-5zM2311 1368h5v6h-5zM2311 1348h5v6h-5zM2311 1328h5v6h-5zM2311 1309h5v6h-5zM2311 1289h5v6h-5zM2311 1269h5v6h-5zM2311 1249h5v6h-5zM2311 1229h5v6h-5zM2311 1209h5v6h-5zM2311 1189h5v6h-5zM2311 1170h5v6h-5zM2311 1150h5v6h-5zM2311 1130h5v6h-5zM2311 1110h5v6h-5zM2311 1090h5v6h-5zM2311 1070h5v6h-5zM2311 1050h5v6h-5zM2311 1031h5v6h-5zM2311 1011h5v6h-5zM2311 991h5v6h-5zM2311 971h5v6h-5zM2311 951h5v6h-5zM2311 931h5v6h-5zM2311 911h5v6h-5zM2311 892h5v6h-5zM2311 872h5v6h-5zM2311 852h5v6h-5zM2311 832h5v6h-5zM2311 812h5v6h-5zM2311 792h5v6h-5zM2311 772h5v6h-5zM2311 752h5v6h-5zM2311 733h5v6h-5zM2311 713h5v6h-5zM2311 693h5v6h-5zM2311 673h5v6h-5zM2311 653h5v6h-5zM2311 633h5v6h-5zM2311 613h5v6h-5zM2311 594h5v6h-5zM2311 574h5v6h-5zM2311 554h5v6h-5zM2311 534h5v6h-5zM2311 514h5v6h-5zM2311 494h5v6h-5zM2311 474h5v6h-5zM2311 455h5v6h-5zM2311 435h5v6h-5zM2311 415h5v6h-5zM2311 395h5v6h-5zM2311 375h5v6h-5zM2311 355h5v6h-5zM2311 335h5v6h-5zM2311 316h5v6h-5zM2311 296h5v6h-5zM2311 276h5v6h-5zM2311 256h5v6h-5zM2311 236h5v6h-5zM2311 216h5v6h-5zM2311 196h5v6h-5zM2311 177h5v6h-5zM2311 157h5v6h-5zM2311 137h5v6h-5zM2311 117h5v6h-5zM2311 97h5v6h-5zM2311 77h5v6h-5zM2311 57h5v6h-5z"/>
<path d="M2340 1746h4v6h-4zM2340 1726h4v6h-4zM2340 1706h4v6h-4zM2340 1686h4v6h-4zM2340 1666h4v6h-4zM2340 1646h4v6h-4zM2340 1626h4v6h-4zM2340 1606h4v6h-4zM2340 1587h4v6h-4zM2340 1567h4v6h-4zM2340 1547h4v6h-4zM2340 1527h4v6h-4zM2340 1507h4v6h-4zM2340 1487h4v6h-4zM2340 1467h4v6h-4zM2340 1448h4v6h-4zM2340 1428h4v6h-4zM2340 1408h4v6h-4zM2340 1388h4v6h-4zM2340 1368h4v6h-4zM2340 1348h4v6h-4zM2340 1328h4v6h-4zM2340 1309h4v6h-4zM2340 1289h4v6h-4zM2340 1269h4v6h-4zM2340 1249h4v6h-4zM2340 1229h4v6h-4zM2340 1209h4v6h-4zM2340 1189h4v6h-4zM2340 1170h4v6h-4zM2340 1150h4v6h-4zM2340 1130h4v6h-4zM2340 1110h4v6h-4zM2340 1090h4v6h-4zM2340 1070h4v6h-4zM2340 1050h4v6h-4zM2340 1031h4v6h-4zM2340 1011h4v6h-4zM2340 991h4v6h-4zM2340 971h4v6h-4zM2340 951h4v6h-4zM2340 931h4v6h-4zM2340 911h4v6h-4zM2340 892h4v6h-4zM2340 872h4v6h-4zM2340 852h4v6h-4zM2340 832h4v6h-4zM2340 812h4v6h-4zM2340 792h4v6h-4zM2340 772h4v6h-4zM2340 752h4v6h-4zM2340 733h4v6h-4zM2340 713h4v6h-4zM2340 693h4v6h-4zM2340 673h4v6h-4zM2340 653h4v6h-4zM2340 633h4v6h-4zM2340 613h4v6h-4zM2340 594h4v6h-4zM2340 574h4v6h-4zM2340 554h4v6h-4zM2340 534h4v6h-4zM2340 514h4v6h-4zM2340 494h4v6h-4zM2340 474h4v6h-4zM2340 455h4v6h-4zM2340 435h4v6h-4zM2340 415h4v6h-4zM2340 395h4v6h-4zM2340 375h4v6h-4zM2340 355h4v6h-4zM2340 335h4v6h-4zM2340 316h4v6h-4zM2340 296h4v6h-4zM2340 276h4v6h-4zM2340 256h4v6h-4zM2340 236h4v6h-4zM2340 216h4v6h-4zM2340 196h4v6h-4zM2340 177h4v6h-4zM2340 157h4v6h-4zM2340 137h4v6h-4zM2340 117h4v6h-4zM2340 97h4v6h-4zM2340 77h4v6h-4zM2340 57h4v6h-4z"/>
<path d="M2365 1746h4v6h-4zM2365 1726h4v6h-4zM2365 1706h4v6h-4zM2365 1686h4v6h-4zM2365 1666h4v6h-4zM2365 1646h4v6h-4zM2365 1626h4v6h-4zM2365 1606h4v6h-4zM2365 1587h4v6h-4zM2365 1567h4v6h-4zM2365 1547h4v6h-4zM2365 1527h4v6h-4zM2365 1507h4v6h-4zM2365 1487h4v6h-4zM2365 1467h4v6h-4zM2365 1448h4v6h-4zM2365 1428h4v6h-4zM2365 1408h4v6h-4zM2365 1388h4v6h-4zM2365 1368h4v6h-4zM2365 1348h4v6h-4zM2365 1328h4v6h-4zM2365 1309h4v6h-4zM2365 1289h4v6h-4zM2365 1269h4v6h-4zM2365 1249h4v6h-4zM2365 1229h4v6h-4zM2365 1209h4v6h-4zM2365 1189h4v6h-4zM2365 1170h4v6h-4zM2365 1150h4v6h-4zM2365 1130h4v6h-4zM2365 1110h4v6h-4zM2365 1090h4v6h-4zM2365 1070h4v6h-4zM2365 1050h4v6h-4zM2365 1031h4v6h-4zM2365 1011h4v6h-4zM2365 991h4v6h-4zM2365 971h4v6h-4zM2365 951h4v6h-4zM2365 931h4v6h-4zM2365 911h4v6h-4zM2365 892h4v6h-4zM2365 872h4v6h-4zM2365 852h4v6h-4zM2365 832h4v6h-4zM2365 812h4v6h-4zM2365 792h4v6h-4zM2365 772h4v6h-4zM2365 752h4v6h-4zM2365 733h4v6h-4zM2365 713h4v6h-4zM2365 693h4v6h-4zM2365 673h4v6h-4zM2365 653h4v6h-4zM2365 633h4v6h-4zM2365 613h4v6h-4zM2365 594h4v6h-4zM2365 574h4v6h-4zM2365 554h4v6h-4zM2365 534h4v6h-4zM2365 514h4v6h-4zM2365 494h4v6h-4zM2365 474h4v6h-4zM2365 455h4v6h-4zM2365 435h4v6h-4zM2365 415h4v6h-4zM2365 395h4v6h-4zM2365 375h4v6h-4zM2365 355h4v6h-4zM2365 335h4v6h-4zM2365 316h4v6h-4zM2365 296h4v6h-4zM2365 276h4v6h-4zM2365 256h4v6h-4zM2365 236h4v6h-4zM2365 216h4v6h-4zM2365 196h4v6h-4zM2365 177h4v6h-4zM2365 157h4v6h-4zM2365 137h4v6h-4zM2365 117h4v6h-4zM2365 97h4v6h-4zM2365 77h4v6h-4zM2365 57h4v6h-4z"/>
<path d="M2387 1746h4v6h-4zM2387 1726h4v6h-4zM2387 1706h4v6h-4zM2387 1686h4v6h-4zM2387 1666h4v6h-4zM2387 1646h4v6h-4zM2387 1626h4v6h-4zM2387 1606h4v6h-4zM2387 1587h4v6h-4zM2387 1567h4v6h-4zM2387 1547h4v6h-4zM2387 1527h4v6h-4zM2387 1507h4v6h-4zM2387 1487h4v6h-4zM2387 1467h4v6h-4zM2387 1448h4v6h-4zM2387 1428h4v6h-4zM2387 1408h4v6h-4zM2387 1388h4v6h-4zM2387 1368h4v6h-4zM2387 1348h4v6h-4zM2387 1328h4v6h-4zM2387 1309h4v6h-4zM2387 1289h4v6h-4zM2387 1269h4v6h-4zM2387 1249h4v6h-4zM2387 1229h4v6h-4zM2387 1209h4v6h-4zM2387 1189h4v6h-4zM2387 1170h4v6h-4zM2387 1150h4v6h-4zM2387 1130h4v6h-4zM2387 1110h4v6h-4zM2387 1090h4v6h-4zM2387 1070h4v6h-4zM2387 1050h4v6h-4zM2387 1031h4v6h-4zM2387 1011h4v6h-4zM2387 991h4v6h-4zM2387 971h4v6h-4zM2387 951h4v6h-4zM2387 931h4v6h-4zM2387 911h4v6h-4zM2387 892h4v6h-4zM2387 872h4v6h-4zM2387 852h4v6h-4zM2387 832h4v6h-4zM2387 812h4v6h-4zM2387 792h4v6h-4zM2387 772h4v6h-4zM2387 752h4v6h-4zM2387 733h4v6h-4zM2387 713h4v6h-4zM2387 693h4v6h-4zM2387 673h4v6h-4zM2387 653h4v6h-4zM2387 633h4v6h-4zM2387 613h4v6h-4zM2387 594h4v6h-4zM2387 574h4v6h-4zM2387 554h4v6h-4zM2387 534h4v6h-4zM2387 514h4v6h-4zM2387 494h4v6h-4zM2387 474h4v6h-4zM2387 455h4v6h-4zM2387 435h4v6h-4zM2387 415h4v6h-4zM2387 395h4v6h-4zM2387 375h4v6h-4zM2387 355h4v6h-4zM2387 335h4v6h-4zM2387 316h4v6h-4zM2387 296h4v6h-4zM2387 276h4v6h-4zM2387 256h4v6h-4zM2387 236h4v6h-4zM2387 216h4v6h-4zM2387 196h4v6h-4zM2387 177h4v6h-4zM2387 157h4v6h-4zM2387 137h4v6h-4zM2387 117h4v6h-4zM2387 97h4v6h-4zM2387 77h4v6h-4zM2387 57h4v6h-4z"/>
</g>
<g fill="#dfdfdf" shape-rendering="crispEdges">
<rect x="682" y="73" width="5" height="1653"/>
<rect x="1113" y="73" width="5" height="1653"/>
<rect x="1544" y="73" width="5" height="1653"/>
<rect x="1976" y="73" width="4" height="1653"/>
<rect x="278" y="235" width="2106" height="4"/>
<rect x="278" y="424" width="2106" height="5"/>
<rect x="278" y="613" width="2106" height="5"/>
<rect x="278" y="803" width="2106" height="4"/>
<rect x="278" y="992" width="2106" height="4"/>
<rect x="278" y="1181" width="2106" height="4"/>
<rect x="278" y="1370" width="2106" height="5"/>
<rect x="278" y="1560" width="2106" height="4"/>
</g>
<g fill="#262626" shape-rendering="crispEdges">
<path fill-rule="evenodd" d="M251 46H2411V1753H251zM255 50V1749H2407V50z"/>
<rect x="381" y="50" width="4" height="11"/><rect x="381" y="1738" width="4" height="11"/>
<rect x="457" y="50" width="4" height="11"/><rect x="457" y="1738" width="4" height="11"/>
<rect x="511" y="50" width="4" height="11"/><rect x="511" y="1738" width="4" height="11"/>
<rect x="552" y="50" width="5" height="11"/><rect x="552" y="1738" width="5" height="11"/>
<rect x="587" y="50" width="4" height="11"/><rect x="587" y="1738" width="4" height="11"/>
<rect x="615" y="50" width="5" height="11"/><rect x="615" y="1738" width="5" height="11"/>
<rect x="640" y="50" width="5" height="11"/><rect x="640" y="1738" width="5" height="11"/>
<rect x="663" y="50" width="4" height="11"/><rect x="663" y="1738" width="4" height="11"/>
<rect x="812" y="50" width="4" height="11"/><rect x="812" y="1738" width="4" height="11"/>
<rect x="888" y="50" width="4" height="11"/><rect x="888" y="1738" width="4" height="11"/>
<rect x="942" y="50" width="4" height="11"/><rect x="942" y="1738" width="4" height="11"/>
<rect x="984" y="50" width="4" height="11"/><rect x="984" y="1738" width="4" height="11"/>
<rect x="1018" y="50" width="4" height="11"/><rect x="1018" y="1738" width="4" height="11"/>
<rect x="1047" y="50" width="4" height="11"/><rect x="1047" y="1738" width="4" height="11"/>
<rect x="1072" y="50" width="4" height="11"/><rect x="1072" y="1738" width="4" height="11"/>
<rect x="1094" y="50" width="4" height="11"/><rect x="1094" y="1738" width="4" height="11"/>
<rect x="1243" y="50" width="4" height="11"/><rect x="1243" y="1738" width="4" height="11"/>
<rect x="1319" y="50" width="4" height="11"/><rect x="1319" y="1738" width="4" height="11"/>
<rect x="1373" y="50" width="4" height="11"/><rect x="1373" y="1738" width="4" height="11"/>
<rect x="1415" y="50" width="4" height="11"/><rect x="1415" y="1738" width="4" height="11"/>
<rect x="1449" y="50" width="4" height="11"/><rect x="1449" y="1738" width="4" height="11"/>
<rect x="1478" y="50" width="4" height="11"/><rect x="1478" y="1738" width="4" height="11"/>
<rect x="1503" y="50" width="4" height="11"/><rect x="1503" y="1738" width="4" height="11"/>
<rect x="1525" y="50" width="4" height="11"/><rect x="1525" y="1738" width="4" height="11"/>
<rect x="1674" y="50" width="5" height="11"/><rect x="1674" y="1738" width="5" height="11"/>
<rect x="1750" y="50" width="5" height="11"/><rect x="1750" y="1738" width="5" height="11"/>
<rect x="1804" y="50" width="4" height="11"/><rect x="1804" y="1738" width="4" height="11"/>
<rect x="1846" y="50" width="4" height="11"/><rect x="1846" y="1738" width="4" height="11"/>
<rect x="1880" y="50" width="4" height="11"/><rect x="1880" y="1738" width="4" height="11"/>
<rect x="1909" y="50" width="4" height="11"/><rect x="1909" y="1738" width="4" height="11"/>
<rect x="1934" y="50" width="4" height="11"/><rect x="1934" y="1738" width="4" height="11"/>
<rect x="1956" y="50" width="4" height="11"/><rect x="1956" y="1738" width="4" height="11"/>
<rect x="2106" y="50" width="4" height="11"/><rect x="2106" y="1738" width="4" height="11"/>
<rect x="2182" y="50" width="4" height="11"/><rect x="2182" y="1738" width="4" height="11"/>
<rect x="2235" y="50" width="5" height="11"/><rect x="2235" y="1738" width="5" height="11"/>
<rect x="2277" y="50" width="4" height="11"/><rect x="2277" y="1738" width="4" height="11"/>
<rect x="2311" y="50" width="5" height="11"/><rect x="2311" y="1738" width="5" height="11"/>
<rect x="2340" y="50" width="4" height="11"/><rect x="2340" y="1738" width="4" height="11"/>
<rect x="2365" y="50" width="4" height="11"/><rect x="2365" y="1738" width="4" height="11"/>
<rect x="2387" y="50" width="4" height="11"/><rect x="2387" y="1738" width="4" height="11"/>
<rect x="682" y="50" width="5" height="22"/><rect x="682" y="1727" width="5" height="22"/>
<rect x="1113" y="50" width="5" height="22"/><rect x="1113" y="1727" width="5" height="22"/>
<rect x="1544" y="50" width="5" height="22"/><rect x="1544" y="1727" width="5" height="22"/>
<rect x="1976" y="50" width="4" height="22"/><rect x="1976" y="1727" width="4" height="22"/>
<rect x="255" y="235" width="22" height="4"/><rect x="2385" y="235" width="22" height="4"/>
<rect x="255" y="424" width="22" height="5"/><rect x="2385" y="424" width="22" height="5"/>
<rect x="255" y="613" width="22" height="5"/><rect x="2385" y="613" width="22" height="5"/>
<rect x="255" y="803" width="22" height="4"/><rect x="2385" y="803" width="22" height="4"/>
<rect x="255" y="992" width="22" height="4"/><rect x="2385" y="992" width="22" height="4"/>
<rect x="255" y="1181" width="22" height="4"/><rect x="2385" y="1181" width="22" height="4"/>
<rect x="255" y="1370" width="22" height="5"/><rect x="2385" y="1370" width="22" height="5"/>
<rect x="255" y="1560" width="22" height="4"/><rect x="2385" y="1560" width="22" height="4"/>
</g>
<g shape-rendering="crispEdges">
<polyline points="253.5,148.5 684.52,153.5 1115.54,199.5 1546.56,404 1977.58,766.4 2408.6,1176.6" fill="none" stroke="#0072bd" stroke-width="11" stroke-linejoin="round"/>
<rect x="238.5" y="133.5" width="30" height="30" fill="none" stroke="#0072bd" stroke-width="11"/>
<rect x="669.52" y="138.5" width="30" height="30" fill="none" stroke="#0072bd" stroke-width="11"/>
<rect x="1100.54" y="184.5" width="30" height="30" fill="none" stroke="#0072bd" stroke-width="11"/>
<rect x="1531.56" y="389" width="30" height="30" fill="none" stroke="#0072bd" stroke-width="11"/>
<rect x="1962.58" y="751.4" width="30" height="30" fill="none" stroke="#0072bd" stroke-width="11"/>
<rect x="2393.6" y="1161.6" width="30" height="30" fill="none" stroke="#0072bd" stroke-width="11"/>
<polyline points="253.5,149 684.52,158.7 1115.54,238.9 1546.56,502.1 1977.58,891.5 2408.6,1294.4" fill="none" stroke="#ff0000" stroke-width="11" stroke-linejoin="round"/>
<circle cx="253.5" cy="149" r="19.8" fill="none" stroke="#ff0000" stroke-width="11.3"/>
<circle cx="684.52" cy="158.7" r="19.8" fill="none" stroke="#ff0000" stroke-width="11.3"/>
<circle cx="1115.54" cy="238.9" r="19.8" fill="none" stroke="#ff0000" stroke-width="11.3"/>
<circle cx="1546.56" cy="502.1" r="19.8" fill="none" stroke="#ff0000" stroke-width="11.3"/>
<circle cx="1977.58" cy="891.5" r="19.8" fill="none" stroke="#ff0000" stroke-width="11.3"/>
<circle cx="2408.6" cy="1294.4" r="19.8" fill="none" stroke="#ff0000" stroke-width="11.3"/>
<polyline points="253.5,150.3 684.52,171.45 1115.54,298.9 1546.56,611.5 1977.58,1018.3 2408.6,1411.2" fill="none" stroke="#00ff00" stroke-width="11" stroke-linejoin="round"/>
<path d="M230.6 136.3h45.8l-22.9 39.66z" fill="none" stroke="#00ff00" stroke-width="11" stroke-miterlimit="10"/>
<path d="M661.62 157.45h45.8l-22.9 39.66z" fill="none" stroke="#00ff00" stroke-width="11" stroke-miterlimit="10"/>
<path d="M1092.64 284.9h45.8l-22.9 39.66z" fill="none" stroke="#00ff00" stroke-width="11" stroke-miterlimit="10"/>
<path d="M1523.66 597.5h45.8l-22.9 39.66z" fill="none" stroke="#00ff00" stroke-width="11" stroke-miterlimit="10"/>
<path d="M1954.68 1004.3h45.8l-22.9 39.66z" fill="none" stroke="#00ff00" stroke-width="11" stroke-miterlimit="10"/>
<path d="M2385.7 1397.2h45.8l-22.9 39.66z" fill="none" stroke="#00ff00" stroke-width="11" stroke-miterlimit="10"/>
<polyline points="253.5,152.4 684.52,190.5 1115.54,375.5 1546.56,727.2 1977.58,1139.4 2408.6,1525.5" fill="none" stroke="#ff00ff" stroke-width="11" stroke-linejoin="round"/>
<path d="M233.2 152.4h40.6M253.5 132.1v40.6M239 137.9l28.99 28.99M239 166.9l28.99 -28.99" fill="none" stroke="#ff00ff" stroke-width="11"/>
<path d="M664.22 190.5h40.6M684.52 170.2v40.6M670.02 176l28.99 28.99M670.02 205l28.99 -28.99" fill="none" stroke="#ff00ff" stroke-width="11"/>
<path d="M1095.24 375.5h40.6M1115.54 355.2v40.6M1101.04 361l28.99 28.99M1101.04 390l28.99 -28.99" fill="none" stroke="#ff00ff" stroke-width="11"/>
<path d="M1526.26 727.2h40.6M1546.56 706.9v40.6M1532.06 712.7l28.99 28.99M1532.06 741.7l28.99 -28.99" fill="none" stroke="#ff00ff" stroke-width="11"/>
<path d="M1957.28 1139.4h40.6M1977.58 1119.1v40.6M1963.08 1124.9l28.99 28.99M1963.08 1153.9l28.99 -28.99" fill="none" stroke="#ff00ff" stroke-width="11"/>
<path d="M2388.3 1525.5h40.6M2408.6 1505.2v40.6M2394.1 1511l28.99 28.99M2394.1 1540l28.99 -28.99" fill="none" stroke="#ff00ff" stroke-width="11"/>
<polyline points="253.5,157.5 684.52,224.5 1115.54,469.05 1546.56,850.4 1977.58,1258.1 2408.6,1639.5" fill="none" stroke="#d95319" stroke-width="11" stroke-linejoin="round"/>
<path d="M233.2 157.5h40.6M253.5 137.2v40.6" fill="none" stroke="#d95319" stroke-width="11"/>
<path d="M664.22 224.5h40.6M684.52 204.2v40.6" fill="none" stroke="#d95319" stroke-width="11"/>
<path d="M1095.24 469.05h40.6M1115.54 448.75v40.6" fill="none" stroke="#d95319" stroke-width="11"/>
<path d="M1526.26 850.4h40.6M1546.56 830.1v40.6" fill="none" stroke="#d95319" stroke-width="11"/>
<path d="M1957.28 1258.1h40.6M1977.58 1237.8v40.6" fill="none" stroke="#d95319" stroke-width="11"/>
<path d="M2388.3 1639.5h40.6M2408.6 1619.2v40.6" fill="none" stroke="#d95319" stroke-width="11"/>
</g>
<rect x="482" y="1100.3" width="516" height="427.1" fill="#fff" stroke="#262626" stroke-width="4.2"/>
<g shape-rendering="crispEdges">
<rect x="501" y="1145" width="200" height="11" fill="#0072bd"/>
<rect x="586.5" y="1135.5" width="29" height="30" fill="none" stroke="#0072bd" stroke-width="11"/>
<rect x="501" y="1227" width="200" height="11" fill="#ff0000"/>
<circle cx="601" cy="1232.25" r="19.6" fill="none" stroke="#ff0000" stroke-width="11.3"/>
<rect x="501" y="1309" width="200" height="11" fill="#00ff00"/>
<path d="M578.1 1300.5h45.8l-22.9 39.66z" fill="none" stroke="#00ff00" stroke-width="11" stroke-miterlimit="10"/>
<rect x="501" y="1390" width="200" height="11" fill="#ff00ff"/>
<path d="M580.5 1395.5h40M600.5 1376v40M586.36 1381.86l28.28 28.28M586.36 1410.14l28.28 -28.28" fill="none" stroke="#ff00ff" stroke-width="11"/>
<rect x="501" y="1472" width="200" height="11" fill="#d95319"/>
<path d="M580.5 1477.5h40M600.5 1458v40" fill="none" stroke="#d95319" stroke-width="11"/>
</g>
<g class="lg" filter="url(#hard)" letter-spacing="-0.2">
<text transform="translate(715.1 1175) scale(1 1.03)">Nfft<tspan dx="1" dy="4.5">=</tspan><tspan dx="-1" dy="-4.5">64</tspan></text>
<text transform="translate(715.1 1257) scale(1 1.03)">Nfft<tspan dx="1" dy="4.5">=</tspan><tspan dx="-1" dy="-4.5">128</tspan></text>
<text transform="translate(715.1 1339) scale(1 1.03)">Nfft<tspan dx="1" dy="4.5">=</tspan><tspan dx="-1" dy="-4.5">256</tspan></text>
<text transform="translate(715.1 1420.3) scale(1 1.03)">Nfft<tspan dx="1" dy="4.5">=</tspan><tspan dx="-1" dy="-4.5">512</tspan></text>
<text transform="translate(715.1 1502.7) scale(1 1.03)">Nfft<tspan dx="1" dy="4.5">=</tspan><tspan dx="-1" dy="-4.5">1024</tspan></text>
</g>
<g class="tk">
<text x="151.5 188.58" y="75.4">20</text>
<text x="151.54 188.62" y="264.62">15</text>
<text x="151.55 188.63" y="453.84">10</text>
<text x="186.62" y="643.07">5</text>
<text x="186.63" y="832.29">0</text>
<text x="166.92 188.62" y="1021.51">-5</text>
<text x="126.95 148.65 185.73" y="1210.73">-10</text>
<text x="127.14 148.84 185.92" y="1399.96">-15</text>
<text x="126.95 148.65 185.73" y="1589.18">-20</text>
<text x="126.84 148.54 185.62" y="1778.4">-25</text>
</g>
<text class="tk" x="198.1" y="1859.9">10<tspan class="ex" x="272.6" y="1829.9">0</tspan></text>
<text class="tk" x="631.3" y="1859.9">10<tspan class="ex" x="705.4" y="1829.9">1</tspan></text>
<text class="tk" x="1063.2" y="1859.9">10<tspan class="ex" x="1136.7" y="1829.9">2</tspan></text>
<text class="tk" x="1490.4" y="1859.9">10<tspan class="ex" x="1563.9" y="1829.9">3</tspan></text>
<text class="tk" x="1922.3" y="1859.9">10<tspan class="ex" x="1996.3" y="1829.9">4</tspan></text>
<text class="tk" x="2354.4" y="1859.9">10<tspan class="ex" x="2428.7" y="1829.9">5</tspan></text>
<text class="lb" x="890" y="1959" letter-spacing="-0.4">Phase noise linewidth <tspan class="bt" x="1611.5">β</tspan><tspan x="1659.1" letter-spacing="-0.3">,Hz</tspan></text>
<text class="lb" transform="translate(88 1053) rotate(-90) scale(1 1.03)" letter-spacing="-0.4">SINR[dB]</text>
</svg></body></html>
